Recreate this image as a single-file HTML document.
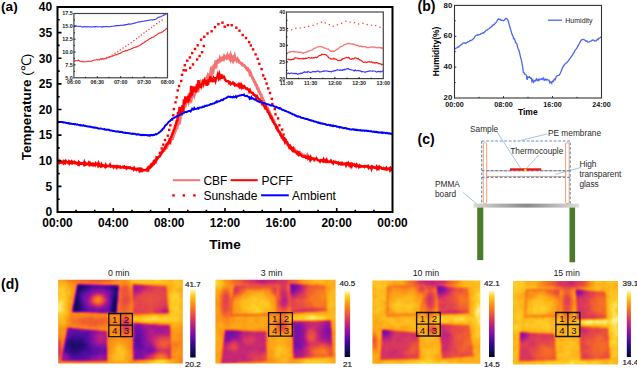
<!DOCTYPE html><html><head><meta charset="utf-8"><style>html,body{margin:0;padding:0;background:#fff;overflow:hidden}svg{display:block}</style></head><body><svg width="637" height="373" viewBox="0 0 637 373"><text x="1.1" y="10.8" font-size="13.6" font-weight="bold" font-family="Liberation Sans, sans-serif">(a)</text><defs><clipPath id="ca"><rect x="57.5" y="7.0" width="335.0" height="205.0"/></clipPath><clipPath id="ci1"><rect x="73.9" y="13.5" width="93.6" height="64.3"/></clipPath><clipPath id="ci2"><rect x="286.5" y="12" width="96.8" height="66.6"/></clipPath><clipPath id="cb"><rect x="454.5" y="5.4" width="147" height="92.6"/></clipPath></defs><g clip-path="url(#ca)"><path d="M160.7,152.3 161.4,152.1 162.1,151.5 162.8,151.2 163.6,149.9 164.3,150.1 165.0,147.7 165.7,148.0 166.4,145.4 167.1,146.2 167.8,144.1 168.5,143.4 169.3,142.6 170.0,142.9 170.7,139.6 171.4,139.2 172.1,137.6 172.8,138.0 173.6,134.7 174.3,133.6 175.0,131.8 175.7,129.6 176.4,128.3 177.1,127.9 177.9,122.1 178.6,122.7 179.3,117.7 180.0,119.3 180.7,113.7 181.4,115.9 182.2,111.7 182.9,110.6 183.6,107.9 184.3,107.0 185.0,103.8 185.7,104.6 186.4,102.6 187.1,102.6 187.8,99.3 188.5,101.5 189.2,98.7 189.9,99.9 190.7,96.4 191.4,98.3 192.1,93.9 192.8,96.5 193.5,93.3 194.2,95.2 194.9,92.9 195.6,92.5 196.3,91.1 197.0,89.6 197.7,87.3 198.5,89.0 199.2,86.0 199.9,88.2 200.7,83.9 201.4,85.8 202.1,83.2 202.9,84.5 203.6,81.0 204.3,81.5 205.1,79.6 205.8,80.4 206.5,78.4 207.3,79.7 208.0,76.5 208.7,78.0 209.5,73.5 210.2,76.3 210.9,71.4 211.7,73.3 212.4,69.4 213.2,70.7 213.9,66.4 214.7,66.9 215.4,63.6 216.2,65.0 216.9,60.1 217.7,63.4 218.4,58.9 219.2,62.4 219.9,59.3 220.7,61.5 221.4,57.0 222.2,60.7 222.9,58.3 223.6,59.1 224.3,56.6 225.0,57.8 225.8,57.0 226.5,57.9 227.3,56.0 228.0,59.1 228.8,54.6 229.5,57.1 230.3,55.2 231.0,59.1 231.7,57.6 232.4,59.3 233.2,55.6 233.9,58.7 234.6,56.6 235.3,59.7 236.0,59.5 236.7,60.7 237.5,59.4 238.2,61.1 238.9,61.1 239.6,62.6 240.3,62.9 241.1,63.5 241.8,63.5 242.5,65.1 243.3,65.1 244.0,65.5 244.8,66.3 245.5,67.1 246.2,67.7 247.0,69.2 247.7,68.8 248.5,70.5 249.2,70.5 250.0,74.0 250.7,73.4 251.5,75.8 252.2,77.2 253.0,78.9 253.7,79.9 254.5,81.9 255.2,83.0 255.9,85.1 256.7,85.4 257.4,88.6 258.2,88.8 258.9,91.6 259.6,91.9 260.4,94.1 261.1,94.8 261.9,97.2 262.7,98.8 263.5,100.8 264.2,102.5 265.0,104.8 265.8,105.1 266.6,108.0 267.5,108.0 268.3,110.4 269.2,111.5 270.0,113.7 270.8,115.2 271.5,116.9 272.2,117.7 273.0,121.0 273.8,120.8 274.5,122.8 275.2,124.4 276.0,125.7 276.8,127.2 277.5,129.4 278.2,130.4 279.0,131.8 279.8,132.4 280.5,134.3 281.2,134.8 282.0,137.5 282.7,137.5 283.5,139.5 284.2,139.4 284.9,140.6 285.6,141.9 286.4,143.2 287.1,143.8 287.8,145.2 288.5,145.1 289.3,146.4 290.0,145.9 290.7,148.1 291.4,147.7 292.1,148.6 292.9,148.1 293.6,149.6 294.3,149.0 295.0,151.0 295.7,151.1 296.4,152.0 297.1,151.7 297.9,153.4 298.6,152.8 299.3,153.8 300.0,153.0 300.7,154.2 301.4,153.9 302.1,154.5 302.9,155.2 303.6,156.0 304.3,155.5 305.0,156.2 305.7,156.3 306.4,157.0 307.1,155.7 307.9,158.0 308.6,157.2 309.3,158.0 310.0,157.7" fill="none" stroke="#f47474" stroke-width="3"/><path d="M57.5,161.3 58.2,162.0 58.9,160.9 59.6,162.4 60.3,161.4 61.0,162.5 61.7,162.3 62.4,162.7 63.1,161.6 63.8,163.0 64.5,161.8 65.2,162.8 65.9,161.2 66.6,162.3 67.3,162.3 68.0,162.8 68.7,161.7 69.4,163.2 70.1,162.0 70.8,162.6 71.5,161.6 72.2,163.0 72.9,162.0 73.6,162.6 74.3,161.9 75.0,163.0 75.7,162.6 76.4,163.5 77.1,163.1 77.9,164.2 78.6,162.6 79.3,164.1 80.0,163.0 80.7,163.8 81.4,163.8 82.1,163.1 82.9,163.0 83.6,164.1 84.3,162.3 85.0,164.4 85.7,163.4 86.4,164.3 87.1,163.9 87.9,164.2 88.6,163.0 89.3,164.6 90.0,163.2 90.7,164.6 91.4,164.0 92.1,164.9 92.9,163.9 93.6,165.0 94.3,164.4 95.0,165.2 95.7,163.4 96.4,164.2 97.2,163.8 97.9,165.4 98.6,163.5 99.3,165.5 100.0,165.0 100.7,166.1 101.4,164.4 102.2,165.9 102.9,165.2 103.6,165.6 104.3,165.5 105.0,166.6 105.7,165.0 106.4,166.5 107.2,165.8 107.9,166.0 108.6,166.0 109.3,166.0 110.0,164.8 110.7,166.6 111.5,166.3 112.2,166.1 112.9,166.3 113.6,167.4 114.3,166.1 115.0,166.5 115.7,166.4 116.5,167.6 117.2,166.3 117.9,167.0 118.6,166.6 119.3,167.1 120.0,166.6 120.7,167.6 121.4,167.4 122.2,167.5 122.9,166.9 123.6,167.4 124.3,166.6 125.0,167.6 125.7,167.3 126.4,168.3 127.1,167.3 127.9,167.9 128.6,167.5 129.3,167.9 130.0,167.4 130.7,168.1 131.4,168.5 132.2,168.7 132.9,168.4 133.6,169.5 134.3,168.0 135.1,169.2 135.8,169.2 136.5,169.8 137.2,168.8 138.0,169.1 138.7,168.7 139.4,170.6 140.2,169.3 140.9,170.5 141.6,169.4 142.3,170.7 143.1,169.9 143.8,170.1 144.5,170.3 145.3,170.3 146.1,169.7 146.9,170.3 147.6,168.4 148.4,169.6 149.2,167.0 150.0,167.4 150.7,165.3 151.4,166.0 152.1,164.1 152.9,164.3 153.6,161.9 154.3,163.0 155.0,161.1 155.7,161.7 156.4,158.2 157.1,159.1 157.8,158.0 158.6,157.2 159.3,156.4 160.0,156.2 160.7,154.4 161.4,153.6 162.1,151.9 162.8,151.4 163.6,149.8 164.3,149.3 165.0,147.5 165.7,147.2 166.4,145.2 167.1,144.2 167.8,143.0 168.5,143.1 169.3,140.4 170.0,141.3 170.7,137.6 171.4,136.8 172.2,134.3 172.9,132.5 173.7,129.8 174.4,129.1 175.2,125.8 175.9,124.6 176.7,121.0 177.4,120.3 178.1,111.8 178.8,116.3 179.6,106.9 180.3,115.6 181.0,107.4 181.8,113.7 182.5,105.0 183.2,112.2 183.9,99.4 184.7,104.4 185.4,96.4 186.1,102.6 186.8,97.5 187.5,102.6 188.3,95.9 189.0,101.4 189.7,93.2 190.4,97.6 191.2,85.9 191.9,95.6 192.6,86.4 193.3,92.3 194.1,89.1 194.8,88.6 195.5,86.7 196.3,92.2 197.0,83.8 197.7,89.6 198.5,80.2 199.2,87.1 200.0,83.6 200.7,87.8 201.4,84.2 202.2,83.9 202.9,82.1 203.6,83.8 204.4,81.3 205.1,84.0 205.9,80.0 206.6,85.9 207.3,81.5 208.1,85.0 208.8,79.2 209.6,82.1 210.3,76.3 211.1,81.9 211.8,79.3 212.6,80.4 213.3,78.7 214.1,82.0 214.8,77.1 215.6,80.4 216.3,78.1 217.1,77.5 217.8,74.9 218.6,77.6 219.4,74.5 220.1,77.2 220.9,74.5 221.7,78.8 222.4,75.9 223.2,76.6 224.0,76.7 224.8,79.4 225.5,80.0 226.3,81.1 227.0,81.3 227.8,81.3 228.5,81.4 229.2,83.0 229.9,82.6 230.7,84.2 231.4,83.7 232.1,83.3 232.8,82.7 233.6,84.0 234.3,83.6 235.0,85.3 235.7,85.0 236.4,85.4 237.2,84.9 237.9,85.6 238.6,84.6 239.3,86.4 240.0,84.7 240.7,86.4 241.4,85.2 242.1,87.6 242.9,86.4 243.6,87.4 244.3,86.4 245.0,87.5 245.7,88.1 246.4,88.9 247.1,88.5 247.8,89.3 248.5,89.5 249.2,91.4 249.9,90.3 250.6,92.1 251.3,92.3 252.1,92.8 252.8,92.9 253.5,94.7 254.2,94.7 254.9,95.6 255.6,95.6 256.3,97.1 257.0,96.4 257.7,98.1 258.4,98.9 259.1,99.6 259.9,99.6 260.6,101.0 261.3,101.1 262.0,103.8 262.8,103.5 263.5,105.4 264.2,105.8 264.9,107.6 265.7,106.8 266.4,109.1 267.1,109.4 267.8,112.0 268.5,112.1 269.2,114.1 269.9,115.0 270.7,117.6 271.4,117.2 272.1,119.3 272.8,120.5 273.5,122.2 274.2,123.3 274.9,124.4 275.6,124.9 276.3,127.5 277.1,127.4 277.8,130.4 278.5,131.0 279.2,132.0 279.9,132.4 280.6,134.9 281.3,135.8 282.1,137.4 282.8,137.3 283.6,139.2 284.3,138.7 285.0,141.7 285.8,140.4 286.5,141.9 287.2,142.3 288.0,144.4 288.7,144.9 289.4,147.3 290.2,146.5 290.9,148.5 291.7,148.4 292.4,150.1 293.2,148.9 293.9,151.4 294.7,151.5 295.4,151.4 296.2,152.6 297.0,153.5 297.7,152.6 298.5,154.3 299.2,153.2 300.0,154.8 300.7,154.7 301.4,155.5 302.2,156.3 302.9,156.4 303.6,156.8 304.3,156.7 305.1,156.4 305.8,157.7 306.5,157.6 307.2,157.8 307.9,156.7 308.6,158.3 309.3,157.7 310.1,159.7 310.8,157.6 311.5,159.2 312.2,158.6 312.9,158.3 313.6,158.5 314.3,159.9 315.0,158.9 315.7,159.1 316.4,158.3 317.2,159.6 317.9,160.1 318.6,160.4 319.3,160.3 320.0,161.4 320.7,160.0 321.5,160.1 322.2,160.9 322.9,161.5 323.6,159.6 324.4,161.1 325.1,160.3 325.8,161.3 326.6,159.9 327.3,161.8 328.0,161.5 328.8,162.0 329.5,161.4 330.2,161.4 330.9,160.7 331.7,162.2 332.4,162.5 333.1,163.4 333.8,161.7 334.5,162.2 335.3,161.9 336.0,162.7 336.7,162.5 337.4,163.1 338.1,162.6 338.8,163.9 339.6,163.2 340.3,164.0 341.0,163.1 341.7,164.1 342.4,163.3 343.1,164.3 343.8,164.1 344.6,163.6 345.3,163.4 346.0,165.2 346.7,163.5 347.4,164.1 348.1,163.1 348.8,164.8 349.6,164.0 350.3,165.8 351.0,164.6 351.7,166.2 352.4,164.2 353.1,165.0 353.9,164.5 354.6,165.5 355.3,165.0 356.0,166.1 356.7,164.7 357.4,165.8 358.1,165.6 358.8,166.8 359.5,165.7 360.2,166.6 360.9,165.9 361.6,166.5 362.4,166.4 363.1,166.2 363.8,166.2 364.5,166.9 365.2,166.1 365.9,166.4 366.6,166.2 367.3,166.7 368.0,166.1 368.7,167.8 369.4,166.9 370.1,167.1 370.8,166.8 371.5,168.7 372.2,166.6 372.9,167.1 373.6,166.9 374.4,167.7 375.1,167.8 375.8,168.0 376.5,166.9 377.2,168.8 377.9,167.8 378.6,168.6 379.3,166.9 380.0,167.9 380.7,167.5 381.4,168.2 382.1,168.8 382.8,168.8 383.5,168.2 384.2,169.0 384.9,168.5 385.7,169.1 386.4,168.0 387.1,169.2 387.8,168.8 388.5,168.8 389.2,168.4 389.9,170.0 390.6,168.3 391.3,169.4 392.5,168.0" fill="none" stroke="#ff0000" stroke-width="2.5"/><rect x="150.7" y="164.4" width="2.4" height="2.4" fill="#ff0000"/><rect x="153.6" y="160.9" width="2.4" height="2.4" fill="#ff0000"/><rect x="156.1" y="156.2" width="2.4" height="2.4" fill="#ff0000"/><rect x="158.7" y="151.7" width="2.4" height="2.4" fill="#ff0000"/><rect x="160.5" y="147.3" width="2.4" height="2.4" fill="#ff0000"/><rect x="162.1" y="143.4" width="2.4" height="2.4" fill="#ff0000"/><rect x="163.8" y="138.8" width="2.4" height="2.4" fill="#ff0000"/><rect x="166.6" y="134.5" width="2.4" height="2.4" fill="#ff0000"/><rect x="168.0" y="128.7" width="2.4" height="2.4" fill="#ff0000"/><rect x="169.2" y="124.1" width="2.4" height="2.4" fill="#ff0000"/><rect x="171.0" y="118.2" width="2.4" height="2.4" fill="#ff0000"/><rect x="172.1" y="114.1" width="2.4" height="2.4" fill="#ff0000"/><rect x="172.6" y="107.9" width="2.4" height="2.4" fill="#ff0000"/><rect x="174.3" y="101.1" width="2.4" height="2.4" fill="#ff0000"/><rect x="175.5" y="96.2" width="2.4" height="2.4" fill="#ff0000"/><rect x="176.5" y="89.2" width="2.4" height="2.4" fill="#ff0000"/><rect x="177.9" y="84.8" width="2.4" height="2.4" fill="#ff0000"/><rect x="180.0" y="79.8" width="2.4" height="2.4" fill="#ff0000"/><rect x="180.8" y="73.6" width="2.4" height="2.4" fill="#ff0000"/><rect x="182.5" y="69.0" width="2.4" height="2.4" fill="#ff0000"/><rect x="183.6" y="64.0" width="2.4" height="2.4" fill="#ff0000"/><rect x="186.1" y="59.5" width="2.4" height="2.4" fill="#ff0000"/><rect x="188.7" y="56.2" width="2.4" height="2.4" fill="#ff0000"/><rect x="191.0" y="51.9" width="2.4" height="2.4" fill="#ff0000"/><rect x="193.8" y="47.8" width="2.4" height="2.4" fill="#ff0000"/><rect x="196.5" y="44.1" width="2.4" height="2.4" fill="#ff0000"/><rect x="199.9" y="38.5" width="2.4" height="2.4" fill="#ff0000"/><rect x="203.0" y="35.6" width="2.4" height="2.4" fill="#ff0000"/><rect x="206.3" y="32.3" width="2.4" height="2.4" fill="#ff0000"/><rect x="210.4" y="30.1" width="2.4" height="2.4" fill="#ff0000"/><rect x="213.8" y="26.0" width="2.4" height="2.4" fill="#ff0000"/><rect x="217.2" y="23.0" width="2.4" height="2.4" fill="#ff0000"/><rect x="221.3" y="21.5" width="2.4" height="2.4" fill="#ff0000"/><rect x="223.5" y="25.5" width="2.4" height="2.4" fill="#ff0000"/><rect x="226.7" y="23.9" width="2.4" height="2.4" fill="#ff0000"/><rect x="230.5" y="24.0" width="2.4" height="2.4" fill="#ff0000"/><rect x="235.2" y="26.5" width="2.4" height="2.4" fill="#ff0000"/><rect x="238.3" y="29.5" width="2.4" height="2.4" fill="#ff0000"/><rect x="241.5" y="33.8" width="2.4" height="2.4" fill="#ff0000"/><rect x="244.8" y="36.8" width="2.4" height="2.4" fill="#ff0000"/><rect x="247.9" y="40.9" width="2.4" height="2.4" fill="#ff0000"/><rect x="249.6" y="44.3" width="2.4" height="2.4" fill="#ff0000"/><rect x="251.9" y="48.2" width="2.4" height="2.4" fill="#ff0000"/><rect x="254.4" y="53.2" width="2.4" height="2.4" fill="#ff0000"/><rect x="256.5" y="57.6" width="2.4" height="2.4" fill="#ff0000"/><rect x="258.1" y="62.6" width="2.4" height="2.4" fill="#ff0000"/><rect x="260.4" y="67.9" width="2.4" height="2.4" fill="#ff0000"/><rect x="262.0" y="74.2" width="2.4" height="2.4" fill="#ff0000"/><rect x="263.8" y="77.7" width="2.4" height="2.4" fill="#ff0000"/><rect x="265.4" y="82.4" width="2.4" height="2.4" fill="#ff0000"/><rect x="267.0" y="87.2" width="2.4" height="2.4" fill="#ff0000"/><rect x="268.8" y="91.8" width="2.4" height="2.4" fill="#ff0000"/><rect x="270.6" y="97.7" width="2.4" height="2.4" fill="#ff0000"/><rect x="271.1" y="102.8" width="2.4" height="2.4" fill="#ff0000"/><rect x="273.6" y="107.9" width="2.4" height="2.4" fill="#ff0000"/><rect x="274.3" y="113.1" width="2.4" height="2.4" fill="#ff0000"/><rect x="276.9" y="117.2" width="2.4" height="2.4" fill="#ff0000"/><rect x="278.2" y="124.1" width="2.4" height="2.4" fill="#ff0000"/><rect x="281.0" y="128.4" width="2.4" height="2.4" fill="#ff0000"/><rect x="282.3" y="133.4" width="2.4" height="2.4" fill="#ff0000"/><rect x="284.5" y="139.2" width="2.4" height="2.4" fill="#ff0000"/><rect x="184.7" y="69.2" width="2.4" height="2.4" fill="#ff0000"/><rect x="189.0" y="66.7" width="2.4" height="2.4" fill="#ff0000"/><rect x="191.8" y="63.2" width="2.4" height="2.4" fill="#ff0000"/><rect x="195.9" y="58.3" width="2.4" height="2.4" fill="#ff0000"/><rect x="198.4" y="54.8" width="2.4" height="2.4" fill="#ff0000"/><rect x="200.9" y="51.0" width="2.4" height="2.4" fill="#ff0000"/><rect x="202.6" y="44.8" width="2.4" height="2.4" fill="#ff0000"/><path d="M57.5,121.8 58.2,122.0 58.9,121.8 59.6,122.1 60.3,122.1 61.0,122.0 61.7,122.1 62.4,122.1 63.1,122.4 63.8,122.3 64.5,122.6 65.2,122.6 65.9,122.9 66.6,123.0 67.3,123.1 68.0,123.4 68.8,123.0 69.5,123.6 70.2,123.5 70.9,123.7 71.6,123.8 72.3,124.0 73.0,123.9 73.7,124.0 74.4,124.4 75.1,124.0 75.8,124.4 76.5,124.6 77.2,124.3 77.9,124.7 78.6,124.9 79.3,125.2 80.0,124.9 80.7,125.4 81.4,125.3 82.1,125.4 82.9,125.7 83.6,125.3 84.3,125.9 85.0,126.0 85.7,125.9 86.4,126.3 87.1,126.2 87.9,126.4 88.6,126.5 89.3,126.8 90.0,126.6 90.7,126.8 91.4,127.0 92.2,127.2 92.9,127.5 93.6,127.3 94.3,127.7 95.0,127.6 95.7,127.8 96.4,127.8 97.2,128.0 97.9,128.4 98.6,128.4 99.3,128.6 100.0,128.4 100.7,128.5 101.4,128.6 102.2,128.9 102.9,129.1 103.6,129.3 104.3,129.0 105.0,129.5 105.7,129.8 106.5,129.7 107.2,129.5 107.9,129.8 108.6,129.7 109.3,130.0 110.0,130.5 110.7,130.5 111.5,130.6 112.2,130.8 112.9,131.0 113.6,131.0 114.3,131.1 115.0,131.2 115.7,131.4 116.5,131.4 117.2,131.6 117.9,131.4 118.6,131.8 119.3,131.8 120.0,132.1 120.7,131.8 121.4,132.0 122.2,132.0 122.9,132.5 123.6,132.7 124.3,132.7 125.0,132.6 125.7,133.0 126.4,133.1 127.1,133.1 127.9,133.0 128.6,133.2 129.3,133.3 130.0,133.4 130.7,133.5 131.4,133.7 132.1,134.0 132.8,133.6 133.5,133.9 134.2,133.7 134.9,133.8 135.6,134.3 136.3,134.3 137.0,134.6 137.7,134.3 138.4,134.2 139.2,134.5 139.9,134.7 140.6,135.0 141.3,135.1 142.0,134.8 142.7,134.9 143.4,134.8 144.1,135.2 144.8,135.0 145.5,135.1 146.2,135.0 146.9,135.1 147.6,135.5 148.3,135.2 149.1,135.7 149.8,135.1 150.6,135.5 151.3,135.0 152.0,134.9 152.8,135.3 153.5,134.9 154.3,135.0 155.0,134.5 155.7,134.1 156.4,134.3 157.1,133.9 157.8,133.5 158.6,133.0 159.3,132.1 160.0,131.9 160.7,131.3 161.4,130.5 162.1,130.0 162.8,128.8 163.6,128.3 164.3,127.2 165.0,125.9 165.8,125.0 166.6,124.4 167.4,123.6 168.3,122.3 169.1,121.6 170.0,121.1 170.7,120.0 171.4,119.8 172.1,119.0 172.8,118.3 173.5,118.1 174.3,117.8 175.0,117.3 175.8,117.0 176.5,116.3 177.3,116.3 178.0,115.6 178.8,115.4 179.5,115.0 180.3,114.5 181.0,114.0 181.8,113.9 182.5,113.7 183.2,113.2 184.0,112.8 184.7,112.3 185.5,111.9 186.2,112.2 187.0,111.8 187.7,111.6 188.5,111.0 189.2,110.9 190.0,110.8 190.7,111.4 191.5,110.1 192.2,108.7 192.9,109.5 193.6,109.6 194.3,108.1 195.0,109.1 195.7,109.1 196.4,108.8 197.1,108.8 197.8,108.1 198.6,108.6 199.3,107.7 200.0,107.6 200.7,107.5 201.4,107.4 202.1,107.3 202.8,106.6 203.5,106.9 204.2,106.6 204.9,105.8 205.7,105.9 206.4,105.6 207.1,105.7 207.8,105.4 208.6,105.1 209.3,105.0 210.0,104.5 210.7,104.0 211.5,104.1 212.2,103.8 212.9,103.4 213.6,103.4 214.4,103.3 215.1,102.5 215.8,102.6 216.5,101.4 217.3,102.0 218.0,101.5 218.7,101.2 219.5,101.2 220.2,100.9 220.9,100.3 221.6,99.8 222.4,100.2 223.1,99.9 223.8,98.9 224.5,98.6 225.3,98.4 226.0,98.1 226.7,97.5 227.4,97.2 228.2,96.6 228.9,96.7 229.7,96.9 230.4,96.7 231.2,97.2 232.0,97.1 232.8,97.5 233.5,96.5 234.3,97.0 235.0,97.2 235.8,96.2 236.5,97.3 237.3,96.4 238.0,95.9 238.8,95.8 239.5,95.6 240.3,95.6 241.0,95.2 241.7,95.0 242.5,95.1 243.2,94.9 244.0,94.5 244.7,95.9 245.5,96.0 246.2,96.0 247.0,95.9 247.7,96.4 248.4,97.1 249.1,97.1 249.8,99.0 250.6,98.6 251.3,97.2 252.0,98.7 252.7,98.6 253.4,98.6 254.1,99.3 254.8,99.6 255.5,99.2 256.3,100.2 257.0,100.8 257.7,100.9 258.4,101.4 259.1,101.9 259.9,102.2 260.6,101.9 261.4,102.4 262.1,102.5 262.9,102.6 263.6,103.3 264.3,103.1 265.0,103.5 265.7,103.7 266.5,104.2 267.2,104.2 267.9,104.3 268.6,104.5 269.3,104.6 270.0,105.3 270.8,105.5 271.5,105.3 272.2,105.4 272.9,105.7 273.6,106.0 274.3,106.6 275.1,106.8 275.8,107.0 276.5,106.8 277.2,107.5 277.9,107.7 278.6,107.9 279.3,108.5 280.0,108.2 280.8,108.6 281.5,109.3 282.2,109.7 282.9,109.9 283.6,110.0 284.3,110.5 285.0,110.9 285.7,110.8 286.4,111.3 287.1,111.6 287.9,111.8 288.6,112.3 289.3,112.5 290.0,112.8 290.7,113.1 291.4,113.7 292.1,113.7 292.8,114.4 293.5,114.4 294.3,114.6 295.0,115.5 295.7,115.4 296.4,116.1 297.1,116.3 297.8,116.6 298.5,116.4 299.2,116.8 299.9,116.8 300.7,117.5 301.4,117.7 302.1,117.8 302.8,117.9 303.5,118.0 304.2,118.5 304.9,118.6 305.6,118.9 306.4,118.8 307.1,119.0 307.8,119.2 308.5,119.8 309.2,119.9 309.9,119.9 310.6,120.5 311.3,120.4 312.1,120.7 312.8,120.7 313.5,121.0 314.2,121.6 314.9,121.5 315.6,121.6 316.3,122.0 317.0,122.1 317.8,122.7 318.5,122.4 319.2,123.1 319.9,122.8 320.6,123.5 321.3,123.5 322.0,123.4 322.7,123.7 323.4,123.8 324.1,123.9 324.8,124.0 325.6,124.2 326.3,124.8 327.0,124.9 327.7,125.0 328.4,124.7 329.1,124.9 329.8,125.4 330.5,125.1 331.2,125.6 331.9,125.5 332.6,126.1 333.3,125.6 334.0,126.2 334.8,126.1 335.5,126.1 336.2,126.2 336.9,126.8 337.6,126.8 338.3,126.7 339.0,127.0 339.7,127.5 340.4,127.2 341.1,127.5 341.8,127.4 342.5,127.6 343.2,128.1 343.9,128.2 344.7,128.0 345.4,128.1 346.1,128.3 346.8,128.7 347.5,128.8 348.2,128.8 348.9,128.9 349.6,129.2 350.3,129.4 351.0,129.5 351.7,129.4 352.5,129.3 353.2,129.3 353.9,129.7 354.6,129.6 355.3,129.9 356.0,129.6 356.7,130.1 357.4,129.9 358.2,130.3 358.9,130.3 359.6,130.2 360.3,130.0 361.0,130.6 361.7,130.4 362.4,130.7 363.1,130.4 363.9,130.4 364.6,130.9 365.3,130.7 366.0,130.6 366.7,130.8 367.4,131.0 368.1,130.8 368.8,131.1 369.6,131.2 370.3,131.3 371.0,131.1 371.7,131.6 372.4,131.7 373.1,131.8 373.8,131.6 374.6,131.9 375.3,131.8 376.0,132.1 376.7,131.8 377.4,132.3 378.1,132.5 378.9,132.3 379.6,132.4 380.3,132.5 381.0,132.6 381.7,132.3 382.4,133.0 383.2,132.6 383.9,132.7 384.6,132.7 385.3,132.9 386.0,133.3 386.8,132.9 387.5,133.1 388.2,133.5 388.9,133.3 389.6,133.3 390.3,133.7 391.1,133.7 391.8,133.7 392.5,133.9" fill="none" stroke="#0000ff" stroke-width="2"/></g><rect x="57.5" y="7.0" width="335.0" height="205.0" fill="none" stroke="#000" stroke-width="2"/><path d="M57.5,199.2h2.2 M57.5,186.4h4 M57.5,173.6h2.2 M57.5,160.8h4 M57.5,147.9h2.2 M57.5,135.1h4 M57.5,122.3h2.2 M57.5,109.5h4 M57.5,96.7h2.2 M57.5,83.9h4 M57.5,71.1h2.2 M57.5,58.2h4 M57.5,45.4h2.2 M57.5,32.6h4 M57.5,19.8h2.2 M76.1,212.0v-2.2 M94.7,212.0v-2.2 M113.3,212.0v-4 M131.9,212.0v-2.2 M150.6,212.0v-2.2 M169.2,212.0v-4 M187.8,212.0v-2.2 M206.4,212.0v-2.2 M225.0,212.0v-4 M243.6,212.0v-2.2 M262.2,212.0v-2.2 M280.8,212.0v-4 M299.4,212.0v-2.2 M318.1,212.0v-2.2 M336.7,212.0v-4 M355.3,212.0v-2.2 M373.9,212.0v-2.2" stroke="#000" stroke-width="1.6"/><text x="52.2" y="216.2" font-size="12" font-weight="bold" text-anchor="end" font-family="Liberation Sans, sans-serif">0</text><text x="52.2" y="190.6" font-size="12" font-weight="bold" text-anchor="end" font-family="Liberation Sans, sans-serif">5</text><text x="52.2" y="164.9" font-size="12" font-weight="bold" text-anchor="end" font-family="Liberation Sans, sans-serif">10</text><text x="52.2" y="139.3" font-size="12" font-weight="bold" text-anchor="end" font-family="Liberation Sans, sans-serif">15</text><text x="52.2" y="113.7" font-size="12" font-weight="bold" text-anchor="end" font-family="Liberation Sans, sans-serif">20</text><text x="52.2" y="88.1" font-size="12" font-weight="bold" text-anchor="end" font-family="Liberation Sans, sans-serif">25</text><text x="52.2" y="62.5" font-size="12" font-weight="bold" text-anchor="end" font-family="Liberation Sans, sans-serif">30</text><text x="52.2" y="36.8" font-size="12" font-weight="bold" text-anchor="end" font-family="Liberation Sans, sans-serif">35</text><text x="52.2" y="11.2" font-size="12" font-weight="bold" text-anchor="end" font-family="Liberation Sans, sans-serif">40</text><text x="57.5" y="227.1" font-size="11.9" font-weight="bold" text-anchor="middle" font-family="Liberation Sans, sans-serif">00:00</text><text x="113.3" y="227.1" font-size="11.9" font-weight="bold" text-anchor="middle" font-family="Liberation Sans, sans-serif">04:00</text><text x="169.2" y="227.1" font-size="11.9" font-weight="bold" text-anchor="middle" font-family="Liberation Sans, sans-serif">08:00</text><text x="225.0" y="227.1" font-size="11.9" font-weight="bold" text-anchor="middle" font-family="Liberation Sans, sans-serif">12:00</text><text x="280.8" y="227.1" font-size="11.9" font-weight="bold" text-anchor="middle" font-family="Liberation Sans, sans-serif">16:00</text><text x="336.7" y="227.1" font-size="11.9" font-weight="bold" text-anchor="middle" font-family="Liberation Sans, sans-serif">20:00</text><text x="392.5" y="227.1" font-size="11.9" font-weight="bold" text-anchor="middle" font-family="Liberation Sans, sans-serif">00:00</text><text x="225" y="248.8" font-size="13.6" font-weight="bold" text-anchor="middle" font-family="Liberation Sans, sans-serif">Time</text><text transform="translate(31.4,106.9) rotate(-90)" font-size="13.5" font-weight="bold" text-anchor="middle" font-family="Liberation Sans, sans-serif">Temperature <tspan font-weight="normal">(℃)</tspan></text><path d="M172.9,180.2H200.3" stroke="#f47474" stroke-width="2"/><path d="M230.6,180.2H257.7" stroke="#ff0000" stroke-width="2"/><rect x="172.3" y="194.2" width="2.4" height="2.4" fill="#ff0000"/><rect x="182.60000000000002" y="194.2" width="2.4" height="2.4" fill="#ff0000"/><rect x="193.20000000000002" y="194.2" width="2.4" height="2.4" fill="#ff0000"/><path d="M261.1,195.3H288.8" stroke="#0000ff" stroke-width="2"/><text x="203.4" y="184.5" font-size="12" font-family="Liberation Sans, sans-serif">CBF</text><text x="261.6" y="184.5" font-size="12" font-family="Liberation Sans, sans-serif">PCFF</text><text x="203.4" y="199.6" font-size="12" font-family="Liberation Sans, sans-serif">Sunshade</text><text x="291.9" y="199.6" font-size="12" font-family="Liberation Sans, sans-serif">Ambient</text><rect x="73.9" y="13.5" width="93.6" height="64.3" fill="#fff"/><g clip-path="url(#ci1)"><path d="M74.0,25.9 74.7,25.9 75.5,25.8 76.2,25.9 76.9,26.4 77.7,26.3 78.4,26.3 79.2,26.4 79.9,26.3 80.6,26.3 81.4,26.8 82.1,26.9 82.8,27.0 83.5,26.8 84.2,26.9 84.9,26.6 85.6,26.5 86.3,27.0 87.0,26.9 87.7,26.5 88.5,26.8 89.2,26.9 89.9,26.7 90.6,26.9 91.3,27.0 92.0,26.8 92.7,27.0 93.4,26.6 94.1,26.7 94.8,27.0 95.5,26.5 96.2,26.6 96.9,26.8 97.6,26.7 98.3,27.0 99.0,26.8 99.7,26.8 100.4,26.8 101.1,26.8 101.8,27.2 102.5,26.6 103.2,26.8 103.9,26.5 104.6,26.7 105.3,26.5 106.0,26.6 106.7,26.5 107.4,26.5 108.1,26.9 108.8,26.8 109.5,26.7 110.2,26.6 110.9,26.5 111.7,26.3 112.4,26.2 113.1,26.3 113.9,26.1 114.6,25.8 115.3,25.9 116.1,25.5 116.8,25.6 117.5,25.8 118.2,25.4 119.0,25.5 119.7,25.6 120.4,25.4 121.2,25.1 121.9,25.3 122.6,25.4 123.4,25.1 124.1,25.4 124.8,24.7 125.6,24.9 126.3,24.6 127.0,24.5 127.7,24.4 128.4,23.9 129.1,24.2 129.8,23.9 130.5,24.1 131.2,24.0 131.9,23.9 132.6,23.6 133.3,23.5 134.0,23.1 134.7,23.4 135.4,22.8 136.1,22.7 136.8,22.5 137.5,22.1 138.2,22.2 138.9,21.9 139.6,22.0 140.3,21.9 141.0,21.6 141.7,21.5 142.4,21.3 143.1,21.3 143.8,21.5 144.5,21.0 145.2,21.0 146.0,20.6 146.7,20.7 147.4,20.6 148.1,20.5 148.8,20.2 149.5,20.1 150.2,20.0 150.9,20.0 151.7,19.8 152.4,20.1 153.1,19.7 153.8,19.6 154.5,19.6 155.2,19.2 156.0,19.0 156.7,18.7 157.4,17.9 158.2,17.5 158.9,17.0 159.7,17.1 160.4,16.8 161.1,16.5 161.9,16.1 162.6,15.7 163.3,15.5 164.0,14.9 164.7,14.9 165.5,14.2 166.2,13.9 166.9,13.4 167.6,13.0" fill="none" stroke="#3a3aff" stroke-width="1.1"/><path d="M74.0,61.3 74.7,60.7 75.5,60.6 76.2,60.8 76.9,60.7 77.7,60.7 78.4,60.2 79.2,60.7 79.9,61.1 80.6,61.2 81.4,61.3 82.1,61.4 82.8,61.9 83.6,61.7 84.3,61.7 85.0,61.8 85.7,61.7 86.5,61.5 87.2,61.3 87.9,61.2 88.6,61.4 89.4,61.2 90.1,61.3 90.8,61.2 91.5,61.2 92.3,60.8 93.0,60.2 93.7,60.2 94.4,60.0 95.2,60.0 95.9,60.0 96.6,59.6 97.3,60.0 98.0,59.7 98.8,59.7 99.5,60.1 100.2,59.2 100.9,58.7 101.6,59.1 102.3,58.7 103.1,59.0 103.8,58.4 104.5,58.6 105.2,58.7 105.9,58.7 106.6,58.1 107.3,57.7 108.1,57.6 108.8,57.2 109.5,56.9 110.2,56.7 110.9,56.3 111.6,56.3 112.4,56.1 113.1,55.9 113.8,55.5 114.5,55.2 115.2,54.9 116.0,55.0 116.7,54.6 117.4,54.5 118.1,54.0 118.9,53.6 119.6,53.5 120.3,53.4 121.0,52.8 121.7,52.3 122.5,51.9 123.2,51.8 123.9,51.6 124.6,51.3 125.3,50.6 126.1,50.8 126.8,50.5 127.5,50.4 128.2,50.1 129.0,49.8 129.7,49.6 130.4,49.3 131.1,48.9 131.8,48.5 132.5,48.5 133.2,47.8 133.9,47.8 134.6,47.5 135.3,47.3 136.0,46.8 136.8,46.9 137.5,46.4 138.2,46.3 138.9,45.7 139.6,45.5 140.3,45.1 141.0,44.5 141.7,43.9 142.4,43.4 143.1,43.0 143.8,42.7 144.5,42.1 145.2,41.9 146.0,41.1 146.7,40.8 147.4,40.5 148.1,39.9 148.8,39.3 149.5,38.7 150.2,38.4 150.9,38.3 151.7,37.4 152.4,37.3 153.1,37.2 153.8,36.7 154.5,36.5 155.2,35.7 156.0,35.3 156.7,35.1 157.4,34.4 158.1,33.7 158.9,33.4 159.6,32.9 160.3,33.0 161.1,32.6 161.8,32.1 162.5,31.9 163.2,31.3 164.0,30.5 164.7,30.2 165.4,29.6 166.1,29.0 166.9,28.3 167.6,28.5" fill="none" stroke="#ff2020" stroke-width="1.1"/><rect x="102.7" y="58.0" width="1.3" height="1.3" fill="#ff4040"/><rect x="105.8" y="57.3" width="1.3" height="1.3" fill="#ff4040"/><rect x="108.8" y="56.1" width="1.3" height="1.3" fill="#ff4040"/><rect x="111.5" y="54.4" width="1.3" height="1.3" fill="#ff4040"/><rect x="114.3" y="52.7" width="1.3" height="1.3" fill="#ff4040"/><rect x="117.0" y="50.9" width="1.3" height="1.3" fill="#ff4040"/><rect x="119.7" y="49.2" width="1.3" height="1.3" fill="#ff4040"/><rect x="122.4" y="47.4" width="1.3" height="1.3" fill="#ff4040"/><rect x="125.1" y="45.6" width="1.3" height="1.3" fill="#ff4040"/><rect x="127.8" y="43.8" width="1.3" height="1.3" fill="#ff4040"/><rect x="130.5" y="42.0" width="1.3" height="1.3" fill="#ff4040"/><rect x="133.2" y="40.0" width="1.3" height="1.3" fill="#ff4040"/><rect x="135.9" y="38.0" width="1.3" height="1.3" fill="#ff4040"/><rect x="138.3" y="36.2" width="1.3" height="1.3" fill="#ff4040"/><rect x="140.7" y="34.4" width="1.3" height="1.3" fill="#ff4040"/><rect x="143.4" y="32.4" width="1.3" height="1.3" fill="#ff4040"/><rect x="145.8" y="30.6" width="1.3" height="1.3" fill="#ff4040"/><rect x="148.2" y="28.8" width="1.3" height="1.3" fill="#ff4040"/><rect x="150.9" y="26.8" width="1.3" height="1.3" fill="#ff4040"/><rect x="153.3" y="25.0" width="1.3" height="1.3" fill="#ff4040"/><rect x="156.0" y="23.0" width="1.3" height="1.3" fill="#ff4040"/><rect x="158.8" y="21.2" width="1.3" height="1.3" fill="#ff4040"/><rect x="161.5" y="19.5" width="1.3" height="1.3" fill="#ff4040"/></g><rect x="73.9" y="13.5" width="93.6" height="64.3" fill="none" stroke="#444" stroke-width="1.2"/><path d="M73.9,71.4h1 M73.9,64.9h1.6 M73.9,58.5h1 M73.9,52.1h1.6 M73.9,45.6h1 M73.9,39.2h1.6 M73.9,32.8h1 M73.9,26.4h1.6 M73.9,19.9h1 M85.6,77.8v-1 M97.3,77.8v-1.6 M109.0,77.8v-1 M120.7,77.8v-1.6 M132.4,77.8v-1 M144.1,77.8v-1.6 M155.8,77.8v-1" stroke="#000" stroke-width="0.9"/><text x="72.7" y="79.7" font-size="5.4" font-weight="bold" text-anchor="end" fill="#222" font-family="Liberation Sans, sans-serif">5.0</text><text x="72.7" y="66.8" font-size="5.4" font-weight="bold" text-anchor="end" fill="#222" font-family="Liberation Sans, sans-serif">7.5</text><text x="72.7" y="54.0" font-size="5.4" font-weight="bold" text-anchor="end" fill="#222" font-family="Liberation Sans, sans-serif">10.0</text><text x="72.7" y="41.1" font-size="5.4" font-weight="bold" text-anchor="end" fill="#222" font-family="Liberation Sans, sans-serif">12.5</text><text x="72.7" y="28.3" font-size="5.4" font-weight="bold" text-anchor="end" fill="#222" font-family="Liberation Sans, sans-serif">15.0</text><text x="72.7" y="15.4" font-size="5.4" font-weight="bold" text-anchor="end" fill="#222" font-family="Liberation Sans, sans-serif">17.5</text><text x="73.9" y="84.0" font-size="5.3" font-weight="bold" text-anchor="middle" fill="#222" font-family="Liberation Sans, sans-serif">06:00</text><text x="97.3" y="84.0" font-size="5.3" font-weight="bold" text-anchor="middle" fill="#222" font-family="Liberation Sans, sans-serif">06:30</text><text x="120.7" y="84.0" font-size="5.3" font-weight="bold" text-anchor="middle" fill="#222" font-family="Liberation Sans, sans-serif">07:00</text><text x="144.1" y="84.0" font-size="5.3" font-weight="bold" text-anchor="middle" fill="#222" font-family="Liberation Sans, sans-serif">07:30</text><text x="167.5" y="84.0" font-size="5.3" font-weight="bold" text-anchor="middle" fill="#222" font-family="Liberation Sans, sans-serif">08:00</text><rect x="286.5" y="12" width="96.80000000000001" height="66.6" fill="#fff"/><g clip-path="url(#ci2)"><path d="M287.3,52.7 288.0,52.7 288.7,52.4 289.4,51.9 290.1,52.0 290.9,51.6 291.6,51.7 292.3,51.6 293.0,51.6 293.7,51.3 294.4,52.0 295.1,51.9 295.8,51.7 296.6,51.8 297.3,52.0 298.0,52.3 298.7,52.2 299.4,52.5 300.1,52.0 300.8,52.6 301.5,52.3 302.3,53.1 303.0,53.5 303.7,52.8 304.4,52.6 305.1,52.4 305.8,52.4 306.5,52.2 307.3,51.6 308.0,51.2 308.7,51.4 309.4,50.8 310.1,50.8 310.9,50.5 311.6,50.2 312.3,50.0 313.0,49.4 313.7,48.8 314.4,48.2 315.1,48.1 315.9,48.0 316.6,47.5 317.3,46.8 318.0,46.8 318.7,46.8 319.5,46.7 320.2,46.6 320.9,46.6 321.6,46.8 322.3,46.9 323.0,47.4 323.7,47.7 324.5,48.2 325.2,48.0 325.9,48.5 326.6,48.8 327.3,49.1 328.0,49.0 328.7,49.3 329.4,50.3 330.2,50.9 330.9,51.3 331.6,51.3 332.3,50.8 333.0,51.4 333.7,51.1 334.4,51.2 335.2,50.6 335.9,50.2 336.6,49.3 337.3,49.2 338.0,48.9 338.7,48.5 339.4,47.4 340.2,46.8 340.9,46.6 341.6,46.6 342.3,46.2 343.0,45.8 343.7,45.1 344.4,44.7 345.2,44.6 345.9,44.2 346.6,43.7 347.3,43.4 348.0,43.6 348.7,43.5 349.4,43.5 350.1,43.9 350.9,43.9 351.6,44.2 352.3,44.1 353.0,43.9 353.7,44.4 354.4,44.5 355.1,44.7 355.8,45.4 356.5,45.5 357.3,45.3 358.0,45.6 358.7,46.2 359.4,46.5 360.1,46.4 360.8,46.1 361.5,46.7 362.2,46.3 363.0,46.6 363.7,46.4 364.4,46.6 365.1,46.8 365.8,46.6 366.6,47.2 367.3,47.7 368.0,47.4 368.7,47.7 369.4,47.2 370.1,47.1 370.9,47.3 371.6,47.2 372.3,47.1 373.0,46.7 373.7,47.0 374.4,47.5 375.2,47.2 375.9,47.6 376.6,47.6 377.3,47.8 378.0,47.6 378.7,47.3 379.5,47.5 380.2,47.6 380.9,48.1 381.6,47.8 382.5,48.1 383.3,48.1" fill="none" stroke="#f47676" stroke-width="1.3"/><path d="M287.3,59.4 288.0,59.4 288.7,59.1 289.4,59.8 290.1,59.5 290.9,60.1 291.6,59.5 292.3,59.4 293.0,59.1 293.7,59.3 294.4,58.2 295.1,57.7 295.8,57.8 296.5,58.0 297.3,58.1 298.0,58.6 298.7,58.4 299.4,58.7 300.1,58.6 300.8,58.5 301.5,58.8 302.2,58.6 303.0,58.2 303.7,58.9 304.4,58.4 305.1,58.8 305.8,58.2 306.6,58.3 307.3,58.0 308.0,57.9 308.7,57.5 309.4,57.5 310.1,58.1 310.9,58.2 311.6,57.5 312.3,58.1 313.0,57.8 313.7,57.6 314.4,57.8 315.1,57.5 315.9,57.2 316.6,57.8 317.3,57.2 318.0,56.7 318.7,55.9 319.4,55.5 320.1,55.3 320.8,55.4 321.6,54.4 322.3,54.3 323.0,54.3 323.7,54.5 324.4,54.3 325.1,54.7 325.8,54.7 326.6,55.6 327.3,55.9 328.0,56.7 328.7,58.0 329.4,58.0 330.1,58.3 330.8,58.9 331.6,59.1 332.3,58.9 333.0,58.9 333.7,58.2 334.4,59.2 335.1,59.2 335.8,58.9 336.6,59.4 337.3,60.1 338.0,60.6 338.7,60.6 339.4,60.4 340.1,60.3 340.9,60.5 341.6,59.2 342.3,59.3 343.0,58.6 343.7,58.6 344.4,58.3 345.1,57.9 345.9,57.8 346.6,57.5 347.3,57.8 348.0,58.1 348.7,57.3 349.4,58.0 350.1,59.0 350.9,59.4 351.6,59.2 352.3,58.6 353.0,58.8 353.7,58.8 354.4,58.3 355.1,57.9 355.9,57.8 356.6,58.3 357.3,58.7 358.0,58.3 358.7,59.1 359.4,59.9 360.1,60.2 360.8,60.1 361.5,60.8 362.3,61.3 363.0,62.1 363.7,62.4 364.4,62.1 365.1,61.9 365.8,62.3 366.5,62.5 367.3,62.1 368.0,61.8 368.7,61.9 369.4,61.7 370.1,62.1 370.9,62.1 371.6,61.8 372.3,62.4 373.0,62.6 373.7,62.7 374.4,63.1 375.1,62.7 375.9,62.8 376.6,62.5 377.3,62.6 378.0,63.3 378.7,63.7 379.5,63.5 380.2,63.9 380.9,63.9 381.6,64.7 382.5,64.4 383.3,64.1" fill="none" stroke="#ff1a1a" stroke-width="1.2"/><path d="M287.3,74.0 288.0,73.2 288.7,73.2 289.4,73.6 290.2,73.5 290.9,73.0 291.6,73.0 292.3,73.3 293.0,73.6 293.7,73.3 294.4,73.6 295.1,73.4 295.9,73.6 296.6,73.4 297.3,74.1 298.0,74.3 298.7,73.6 299.4,73.7 300.1,73.8 300.9,73.0 301.6,73.4 302.3,73.2 303.0,72.6 303.7,72.4 304.4,71.7 305.1,72.3 305.8,72.2 306.6,72.0 307.3,72.4 308.0,71.5 308.7,71.7 309.4,72.2 310.1,72.4 310.8,72.6 311.6,72.0 312.3,72.0 313.0,71.4 313.7,71.7 314.4,71.7 315.1,72.0 315.8,71.6 316.5,71.4 317.3,71.2 318.0,71.2 318.7,71.2 319.4,72.1 320.1,71.8 320.8,71.8 321.5,71.7 322.3,71.5 323.0,71.2 323.7,71.2 324.4,71.3 325.1,70.9 325.8,71.0 326.5,70.8 327.2,71.0 328.0,71.4 328.7,71.3 329.4,71.4 330.1,71.6 330.8,71.6 331.5,71.8 332.2,71.3 333.0,71.2 333.7,71.1 334.4,70.5 335.1,70.9 335.8,70.4 336.6,70.3 337.3,69.6 338.0,70.0 338.7,70.0 339.4,70.3 340.1,70.0 340.9,70.4 341.6,70.0 342.3,70.3 343.0,69.7 343.7,70.0 344.4,69.3 345.2,69.7 345.9,69.3 346.6,68.8 347.3,68.8 348.0,68.5 348.7,69.2 349.4,69.3 350.2,69.5 350.9,69.8 351.6,69.9 352.3,70.0 353.0,70.3 353.7,70.6 354.4,70.9 355.2,69.9 355.9,70.6 356.6,70.6 357.3,70.7 358.0,70.4 358.7,70.6 359.4,70.8 360.2,71.2 360.9,71.0 361.6,71.8 362.3,71.6 363.0,71.5 363.7,71.7 364.4,72.0 365.2,72.3 365.9,71.8 366.6,71.7 367.3,71.6 368.0,71.4 368.7,71.2 369.4,71.1 370.2,70.9 370.9,71.0 371.6,71.0 372.3,71.3 373.0,70.9 373.7,71.0 374.5,71.0 375.2,71.3 375.9,71.8 376.6,72.0 377.3,71.6 378.0,71.7 378.7,71.5 379.5,71.9 380.2,71.3 380.9,71.9 381.6,71.5 382.5,71.0 383.3,70.9" fill="none" stroke="#3a3aff" stroke-width="1.2"/><rect x="286.7" y="30.1" width="1.3" height="1.3" fill="#ff4040"/><rect x="291.0" y="29.2" width="1.3" height="1.3" fill="#ff4040"/><rect x="295.2" y="27.7" width="1.3" height="1.3" fill="#ff4040"/><rect x="299.5" y="27.4" width="1.3" height="1.3" fill="#ff4040"/><rect x="303.8" y="26.7" width="1.3" height="1.3" fill="#ff4040"/><rect x="308.1" y="25.8" width="1.3" height="1.3" fill="#ff4040"/><rect x="312.4" y="24.7" width="1.3" height="1.3" fill="#ff4040"/><rect x="316.6" y="23.2" width="1.3" height="1.3" fill="#ff4040"/><rect x="320.8" y="21.5" width="1.3" height="1.3" fill="#ff4040"/><rect x="324.7" y="22.2" width="1.3" height="1.3" fill="#ff4040"/><rect x="328.7" y="24.0" width="1.3" height="1.3" fill="#ff4040"/><rect x="332.6" y="25.6" width="1.3" height="1.3" fill="#ff4040"/><rect x="336.8" y="24.1" width="1.3" height="1.3" fill="#ff4040"/><rect x="341.0" y="22.7" width="1.3" height="1.3" fill="#ff4040"/><rect x="345.2" y="20.6" width="1.3" height="1.3" fill="#ff4040"/><rect x="349.5" y="21.4" width="1.3" height="1.3" fill="#ff4040"/><rect x="353.7" y="22.0" width="1.3" height="1.3" fill="#ff4040"/><rect x="358.0" y="23.3" width="1.3" height="1.3" fill="#ff4040"/><rect x="362.3" y="22.7" width="1.3" height="1.3" fill="#ff4040"/><rect x="366.6" y="23.9" width="1.3" height="1.3" fill="#ff4040"/><rect x="370.8" y="24.5" width="1.3" height="1.3" fill="#ff4040"/><rect x="375.0" y="25.0" width="1.3" height="1.3" fill="#ff4040"/><rect x="379.2" y="26.6" width="1.3" height="1.3" fill="#ff4040"/></g><rect x="286.5" y="12" width="96.80000000000001" height="66.6" fill="none" stroke="#444" stroke-width="1.2"/><path d="M286.5,70.3h1 M286.5,61.9h1.6 M286.5,53.6h1 M286.5,45.3h1.6 M286.5,37.0h1 M286.5,28.6h1.6 M286.5,20.3h1 M298.6,78.6v-1 M310.7,78.6v-1.6 M322.8,78.6v-1 M334.9,78.6v-1.6 M347.0,78.6v-1 M359.1,78.6v-1.6 M371.2,78.6v-1" stroke="#000" stroke-width="0.9"/><text x="285.3" y="80.5" font-size="5.4" font-weight="bold" text-anchor="end" fill="#222" font-family="Liberation Sans, sans-serif">20</text><text x="285.3" y="63.8" font-size="5.4" font-weight="bold" text-anchor="end" fill="#222" font-family="Liberation Sans, sans-serif">25</text><text x="285.3" y="47.2" font-size="5.4" font-weight="bold" text-anchor="end" fill="#222" font-family="Liberation Sans, sans-serif">30</text><text x="285.3" y="30.5" font-size="5.4" font-weight="bold" text-anchor="end" fill="#222" font-family="Liberation Sans, sans-serif">35</text><text x="285.3" y="13.9" font-size="5.4" font-weight="bold" text-anchor="end" fill="#222" font-family="Liberation Sans, sans-serif">40</text><text x="286.5" y="84.8" font-size="5.3" font-weight="bold" text-anchor="middle" fill="#222" font-family="Liberation Sans, sans-serif">11:00</text><text x="310.7" y="84.8" font-size="5.3" font-weight="bold" text-anchor="middle" fill="#222" font-family="Liberation Sans, sans-serif">11:30</text><text x="334.9" y="84.8" font-size="5.3" font-weight="bold" text-anchor="middle" fill="#222" font-family="Liberation Sans, sans-serif">12:00</text><text x="359.1" y="84.8" font-size="5.3" font-weight="bold" text-anchor="middle" fill="#222" font-family="Liberation Sans, sans-serif">12:30</text><text x="383.3" y="84.8" font-size="5.3" font-weight="bold" text-anchor="middle" fill="#222" font-family="Liberation Sans, sans-serif">13:00</text><text x="417.5" y="10.9" font-size="14" font-weight="bold" font-family="Liberation Sans, sans-serif">(b)</text><g clip-path="url(#cb)"><path d="M454.3,49.0 455.2,48.9 456.1,48.1 457.0,47.8 457.8,47.0 458.7,47.0 459.6,45.8 460.5,45.5 461.4,44.3 462.2,44.2 463.1,43.1 464.0,43.0 464.9,43.0 465.7,43.4 466.6,42.7 467.5,42.1 468.4,41.6 469.3,41.5 470.1,40.5 470.9,40.6 471.7,40.0 472.5,39.7 473.3,38.8 474.1,38.3 475.3,36.0 476.5,35.2 477.4,34.8 478.4,35.0 479.3,34.7 480.2,34.4 481.0,33.6 481.9,33.6 482.8,32.8 483.7,33.0 484.6,31.9 485.4,31.3 486.3,30.1 487.2,30.0 488.1,29.3 488.9,28.7 489.8,27.8 490.7,27.5 491.5,26.2 492.4,26.2 493.2,24.7 494.1,24.8 494.9,23.4 495.8,22.8 496.8,21.3 497.7,19.7 498.6,18.9 499.4,19.6 500.2,19.3 501.1,20.3 502.3,20.2 503.5,20.8 504.5,20.1 505.6,18.6 506.6,18.5 507.6,19.5 508.5,21.8 509.5,25.8 510.7,29.6 511.9,34.1 512.8,35.7 513.7,38.8 514.6,38.8 515.5,42.6 516.7,43.3 517.9,48.2 519.1,50.6 520.3,56.1 521.1,58.9 521.9,62.6 522.7,67.1 523.4,72.7 524.2,72.9 525.1,74.5 526.3,74.9 527.1,79.9 527.9,76.8 528.7,77.4 529.5,76.7 530.3,78.3 531.2,78.1 532.0,81.6 532.8,79.8 533.6,82.2 534.5,80.6 535.4,81.0 536.3,78.9 537.2,80.6 538.1,79.3 538.9,80.6 539.8,79.1 540.6,79.5 541.5,78.7 542.3,79.5 543.2,78.0 544.2,80.2 545.1,79.1 546.1,80.3 547.0,79.2 548.0,80.2 549.0,80.2 549.9,82.9 550.9,81.8 551.8,83.3 552.6,81.1 553.5,81.4 554.3,79.1 555.2,79.7 556.3,76.6 557.4,75.7 558.3,75.4 559.3,74.9 560.1,73.5 561.0,71.6 561.8,69.6 562.7,67.5 563.5,65.7 564.5,64.8 565.6,63.2 566.6,62.9 567.6,61.4 568.5,60.7 569.5,59.0 570.5,57.9 571.4,56.2 572.4,55.4 573.3,53.4 574.3,52.1 575.2,50.1 576.1,49.1 577.1,47.7 578.0,45.8 579.0,44.1 580.1,42.0 581.1,40.3 582.1,39.7 583.0,39.4 584.0,39.7 585.0,40.2 585.9,41.0 586.9,41.0 587.8,41.9 588.8,42.1 589.7,41.7 590.6,41.0 591.5,40.8 592.4,40.0 593.2,40.2 594.0,40.4 594.8,41.0 595.6,40.8 596.4,40.6 597.3,39.3 598.1,39.6 599.0,38.1 599.8,38.0 600.7,37.0 601.5,36.8" fill="none" stroke="#4a68f0" stroke-width="1.3"/></g><rect x="454.5" y="5.4" width="147.0" height="92.6" fill="none" stroke="#333" stroke-width="1.1"/><path d="M454.5,82.6h1.2 M454.5,67.1h1.8 M454.5,51.7h1.2 M454.5,36.3h1.8 M454.5,20.8h1.2 M479.0,98.0v-1.2 M503.5,98.0v-1.8 M528.0,98.0v-1.2 M552.5,98.0v-1.8 M577.0,98.0v-1.2" stroke="#222" stroke-width="1"/><text x="452.3" y="100.1" font-size="7.8" font-weight="bold" text-anchor="end" fill="#111" font-family="Liberation Sans, sans-serif">20</text><text x="452.3" y="69.2" font-size="7.8" font-weight="bold" text-anchor="end" fill="#111" font-family="Liberation Sans, sans-serif">40</text><text x="452.3" y="38.4" font-size="7.8" font-weight="bold" text-anchor="end" fill="#111" font-family="Liberation Sans, sans-serif">60</text><text x="452.3" y="7.5" font-size="7.8" font-weight="bold" text-anchor="end" fill="#111" font-family="Liberation Sans, sans-serif">80</text><text x="454.5" y="107" font-size="7.2" font-weight="bold" text-anchor="middle" fill="#111" font-family="Liberation Sans, sans-serif">00:00</text><text x="503.5" y="107" font-size="7.2" font-weight="bold" text-anchor="middle" fill="#111" font-family="Liberation Sans, sans-serif">08:00</text><text x="552.5" y="107" font-size="7.2" font-weight="bold" text-anchor="middle" fill="#111" font-family="Liberation Sans, sans-serif">16:00</text><text x="601.5" y="107" font-size="7.2" font-weight="bold" text-anchor="middle" fill="#111" font-family="Liberation Sans, sans-serif">24:00</text><text x="527.8" y="115.2" font-size="8.5" font-weight="bold" text-anchor="middle" font-family="Liberation Sans, sans-serif">Time</text><text transform="translate(439.1,51.4) rotate(-90)" font-size="8.5" font-weight="bold" text-anchor="middle" font-family="Liberation Sans, sans-serif">Humidity(%)</text><path d="M547.9,20.2H562.1" stroke="#4a68f0" stroke-width="1.3"/><text x="565.3" y="22.6" font-size="7" fill="#222" font-family="Liberation Sans, sans-serif">Humidity</text><text x="417.6" y="144" font-size="14" font-weight="bold" font-family="Liberation Sans, sans-serif">(c)</text><defs><linearGradient id="brd" x1="0" x2="1"><stop offset="0" stop-color="#d8d8d8"/><stop offset="0.5" stop-color="#8a8a8a"/><stop offset="1" stop-color="#dedede"/></linearGradient></defs><rect x="473.6" y="203.6" width="105.5" height="4" fill="url(#brd)"/><rect x="477.2" y="207.6" width="6.1" height="52.5" fill="#4a7a2a"/><rect x="569.5" y="207.6" width="5.6" height="54.7" fill="#4a7a2a"/><rect x="483.3" y="142.8" width="3.4" height="60.8" rx="1.2" fill="#fff" stroke="#f4a070" stroke-width="1"/><rect x="565.6" y="142.8" width="3.6" height="60.8" rx="1.2" fill="#fff" stroke="#f4a070" stroke-width="1"/><rect x="486.7" y="170.8" width="78.9" height="5.6" fill="#fff" stroke="#f4a070" stroke-width="1"/><path d="M481.7,141H570.2V204M481.7,141V204M481.7,170.6H570.2M481.7,177.4H570.2" fill="none" stroke="#5f90cc" stroke-width="1.1" stroke-dasharray="2.8,1.7"/><rect x="510" y="168.3" width="31.3" height="2.2" fill="#ee1111"/><circle cx="525.3" cy="170" r="1.3" fill="#ffe000"/><path d="M496.4,131L520.5,168M547.2,134L520.8,140.3M538.7,155.1L525.6,169M581,167.4L555.7,174.3M463,192.4L476.3,203.5" stroke="#6aa0d8" stroke-width="0.6" fill="none"/><text x="470.0" y="131.5" font-size="8.3" fill="#2a2a2a" font-family="Liberation Sans, sans-serif">Sample</text><text x="548.0" y="136.2" font-size="8.3" fill="#2a2a2a" font-family="Liberation Sans, sans-serif">PE membrane</text><text x="510.3" y="153.6" font-size="8.3" fill="#2a2a2a" font-family="Liberation Sans, sans-serif">Thermocouple</text><text x="579.4" y="166.9" font-size="8.3" fill="#2a2a2a" font-family="Liberation Sans, sans-serif">High</text><text x="579.4" y="177.2" font-size="8.3" fill="#2a2a2a" font-family="Liberation Sans, sans-serif">transparent</text><text x="579.4" y="187.0" font-size="8.3" fill="#2a2a2a" font-family="Liberation Sans, sans-serif">glass</text><text x="435" y="186.9" font-size="8.3" fill="#2a2a2a" font-family="Liberation Sans, sans-serif">PMMA</text><text x="435" y="196.8" font-size="8.3" fill="#2a2a2a" font-family="Liberation Sans, sans-serif">board</text><text x="1" y="288.5" font-size="14" font-weight="bold" font-family="Liberation Sans, sans-serif">(d)</text><defs><filter id="irn" x="-5%" y="-5%" width="110%" height="110%" color-interpolation-filters="sRGB"><feGaussianBlur in="SourceGraphic" stdDeviation="1.1" result="b"/><feTurbulence type="fractalNoise" baseFrequency="0.12" numOctaves="2" seed="5" result="n0"/><feColorMatrix in="n0" type="matrix" values="1 0 0 0 0 1 0 0 0 0 1 0 0 0 0 0 0 0 0 1" result="n"/><feComposite in="b" in2="n" operator="arithmetic" k1="0" k2="1" k3="0.09" k4="-0.045"/><feComponentTransfer><feFuncR type="table" tableValues="0.024 0.078 0.165 0.306 0.463 0.627 0.769 0.882 0.949 0.980 0.992 1.000 1.000"/><feFuncG type="table" tableValues="0.016 0.047 0.047 0.047 0.063 0.086 0.149 0.251 0.376 0.518 0.667 0.824 0.980"/><feFuncB type="table" tableValues="0.157 0.345 0.502 0.620 0.659 0.588 0.471 0.322 0.188 0.102 0.086 0.157 0.745"/><feFuncA type="linear" slope="1"/></feComponentTransfer></filter><filter id="irn0" x="0" y="0" width="100%" height="100%" color-interpolation-filters="sRGB"><feComponentTransfer><feFuncR type="table" tableValues="0.024 0.078 0.165 0.306 0.463 0.627 0.769 0.882 0.949 0.980 0.992 1.000 1.000"/><feFuncG type="table" tableValues="0.016 0.047 0.047 0.047 0.063 0.086 0.149 0.251 0.376 0.518 0.667 0.824 0.980"/><feFuncB type="table" tableValues="0.157 0.345 0.502 0.620 0.659 0.588 0.471 0.322 0.188 0.102 0.086 0.157 0.745"/></feComponentTransfer></filter><linearGradient id="cbar" x1="0" y1="0" x2="0" y2="1"><stop offset="0" stop-color="#fff"/><stop offset="1" stop-color="#000"/></linearGradient><radialGradient id="rg1"><stop offset="0" stop-color="rgb(230,230,230)" stop-opacity="1.00"/><stop offset="0.3" stop-color="rgb(230,230,230)" stop-opacity="0.82"/><stop offset="0.6" stop-color="rgb(230,230,230)" stop-opacity="0.40"/><stop offset="0.85" stop-color="rgb(230,230,230)" stop-opacity="0.10"/><stop offset="1" stop-color="rgb(230,230,230)" stop-opacity="0.00"/></radialGradient><radialGradient id="rg2"><stop offset="0" stop-color="rgb(158,158,158)" stop-opacity="1.00"/><stop offset="0.3" stop-color="rgb(158,158,158)" stop-opacity="0.82"/><stop offset="0.6" stop-color="rgb(158,158,158)" stop-opacity="0.40"/><stop offset="0.85" stop-color="rgb(158,158,158)" stop-opacity="0.10"/><stop offset="1" stop-color="rgb(158,158,158)" stop-opacity="0.00"/></radialGradient><radialGradient id="rg3"><stop offset="0" stop-color="rgb(219,219,219)" stop-opacity="1.00"/><stop offset="0.3" stop-color="rgb(219,219,219)" stop-opacity="0.82"/><stop offset="0.6" stop-color="rgb(219,219,219)" stop-opacity="0.40"/><stop offset="0.85" stop-color="rgb(219,219,219)" stop-opacity="0.10"/><stop offset="1" stop-color="rgb(219,219,219)" stop-opacity="0.00"/></radialGradient><radialGradient id="rg4"><stop offset="0" stop-color="rgb(235,235,235)" stop-opacity="1.00"/><stop offset="0.3" stop-color="rgb(235,235,235)" stop-opacity="0.82"/><stop offset="0.6" stop-color="rgb(235,235,235)" stop-opacity="0.40"/><stop offset="0.85" stop-color="rgb(235,235,235)" stop-opacity="0.10"/><stop offset="1" stop-color="rgb(235,235,235)" stop-opacity="0.00"/></radialGradient><radialGradient id="rg5"><stop offset="0" stop-color="rgb(255,255,255)" stop-opacity="1.00"/><stop offset="0.3" stop-color="rgb(255,255,255)" stop-opacity="0.82"/><stop offset="0.6" stop-color="rgb(255,255,255)" stop-opacity="0.40"/><stop offset="0.85" stop-color="rgb(255,255,255)" stop-opacity="0.10"/><stop offset="1" stop-color="rgb(255,255,255)" stop-opacity="0.00"/></radialGradient><radialGradient id="rg6"><stop offset="0" stop-color="rgb(128,128,128)" stop-opacity="1.00"/><stop offset="0.3" stop-color="rgb(128,128,128)" stop-opacity="0.82"/><stop offset="0.6" stop-color="rgb(128,128,128)" stop-opacity="0.40"/><stop offset="0.85" stop-color="rgb(128,128,128)" stop-opacity="0.10"/><stop offset="1" stop-color="rgb(128,128,128)" stop-opacity="0.00"/></radialGradient><radialGradient id="rg7"><stop offset="0" stop-color="rgb(235,235,235)" stop-opacity="1.00"/><stop offset="0.3" stop-color="rgb(235,235,235)" stop-opacity="0.82"/><stop offset="0.6" stop-color="rgb(235,235,235)" stop-opacity="0.40"/><stop offset="0.85" stop-color="rgb(235,235,235)" stop-opacity="0.10"/><stop offset="1" stop-color="rgb(235,235,235)" stop-opacity="0.00"/></radialGradient><radialGradient id="rg8"><stop offset="0" stop-color="rgb(242,242,242)" stop-opacity="1.00"/><stop offset="0.3" stop-color="rgb(242,242,242)" stop-opacity="0.82"/><stop offset="0.6" stop-color="rgb(242,242,242)" stop-opacity="0.40"/><stop offset="0.85" stop-color="rgb(242,242,242)" stop-opacity="0.10"/><stop offset="1" stop-color="rgb(242,242,242)" stop-opacity="0.00"/></radialGradient><radialGradient id="rg9"><stop offset="0" stop-color="rgb(153,153,153)" stop-opacity="1.00"/><stop offset="0.3" stop-color="rgb(153,153,153)" stop-opacity="0.82"/><stop offset="0.6" stop-color="rgb(153,153,153)" stop-opacity="0.40"/><stop offset="0.85" stop-color="rgb(153,153,153)" stop-opacity="0.10"/><stop offset="1" stop-color="rgb(153,153,153)" stop-opacity="0.00"/></radialGradient><radialGradient id="rg10"><stop offset="0" stop-color="rgb(128,128,128)" stop-opacity="1.00"/><stop offset="0.3" stop-color="rgb(128,128,128)" stop-opacity="0.82"/><stop offset="0.6" stop-color="rgb(128,128,128)" stop-opacity="0.40"/><stop offset="0.85" stop-color="rgb(128,128,128)" stop-opacity="0.10"/><stop offset="1" stop-color="rgb(128,128,128)" stop-opacity="0.00"/></radialGradient><radialGradient id="rg11"><stop offset="0" stop-color="rgb(163,163,163)" stop-opacity="1.00"/><stop offset="0.3" stop-color="rgb(163,163,163)" stop-opacity="0.82"/><stop offset="0.6" stop-color="rgb(163,163,163)" stop-opacity="0.40"/><stop offset="0.85" stop-color="rgb(163,163,163)" stop-opacity="0.10"/><stop offset="1" stop-color="rgb(163,163,163)" stop-opacity="0.00"/></radialGradient><radialGradient id="rg12"><stop offset="0" stop-color="rgb(230,230,230)" stop-opacity="1.00"/><stop offset="0.3" stop-color="rgb(230,230,230)" stop-opacity="0.82"/><stop offset="0.6" stop-color="rgb(230,230,230)" stop-opacity="0.40"/><stop offset="0.85" stop-color="rgb(230,230,230)" stop-opacity="0.10"/><stop offset="1" stop-color="rgb(230,230,230)" stop-opacity="0.00"/></radialGradient><radialGradient id="rg13"><stop offset="0" stop-color="rgb(242,242,242)" stop-opacity="1.00"/><stop offset="0.3" stop-color="rgb(242,242,242)" stop-opacity="0.82"/><stop offset="0.6" stop-color="rgb(242,242,242)" stop-opacity="0.40"/><stop offset="0.85" stop-color="rgb(242,242,242)" stop-opacity="0.10"/><stop offset="1" stop-color="rgb(242,242,242)" stop-opacity="0.00"/></radialGradient><radialGradient id="rg14"><stop offset="0" stop-color="rgb(102,102,102)" stop-opacity="1.00"/><stop offset="0.45" stop-color="rgb(102,102,102)" stop-opacity="0.92"/><stop offset="0.75" stop-color="rgb(102,102,102)" stop-opacity="0.50"/><stop offset="0.9" stop-color="rgb(102,102,102)" stop-opacity="0.15"/><stop offset="1" stop-color="rgb(102,102,102)" stop-opacity="0.00"/></radialGradient><radialGradient id="rg15"><stop offset="0" stop-color="rgb(199,199,199)" stop-opacity="1.00"/><stop offset="0.3" stop-color="rgb(199,199,199)" stop-opacity="0.82"/><stop offset="0.6" stop-color="rgb(199,199,199)" stop-opacity="0.40"/><stop offset="0.85" stop-color="rgb(199,199,199)" stop-opacity="0.10"/><stop offset="1" stop-color="rgb(199,199,199)" stop-opacity="0.00"/></radialGradient><radialGradient id="rg16"><stop offset="0" stop-color="rgb(0,0,0)" stop-opacity="1.00"/><stop offset="0.3" stop-color="rgb(0,0,0)" stop-opacity="0.82"/><stop offset="0.6" stop-color="rgb(0,0,0)" stop-opacity="0.40"/><stop offset="0.85" stop-color="rgb(0,0,0)" stop-opacity="0.10"/><stop offset="1" stop-color="rgb(0,0,0)" stop-opacity="0.00"/></radialGradient><radialGradient id="rg17"><stop offset="0" stop-color="rgb(15,15,15)" stop-opacity="1.00"/><stop offset="0.3" stop-color="rgb(15,15,15)" stop-opacity="0.82"/><stop offset="0.6" stop-color="rgb(15,15,15)" stop-opacity="0.40"/><stop offset="0.85" stop-color="rgb(15,15,15)" stop-opacity="0.10"/><stop offset="1" stop-color="rgb(15,15,15)" stop-opacity="0.00"/></radialGradient><clipPath id="cp18"><polygon points="77.4,284.6 118.6,285.4 116.2,313.0 72.5,311.8"/></clipPath><radialGradient id="rg19"><stop offset="0" stop-color="rgb(102,102,102)" stop-opacity="1.00"/><stop offset="0.3" stop-color="rgb(102,102,102)" stop-opacity="0.82"/><stop offset="0.6" stop-color="rgb(102,102,102)" stop-opacity="0.40"/><stop offset="0.85" stop-color="rgb(102,102,102)" stop-opacity="0.10"/><stop offset="1" stop-color="rgb(102,102,102)" stop-opacity="0.00"/></radialGradient><radialGradient id="rg20"><stop offset="0" stop-color="rgb(161,161,161)" stop-opacity="1.00"/><stop offset="0.3" stop-color="rgb(161,161,161)" stop-opacity="0.82"/><stop offset="0.6" stop-color="rgb(161,161,161)" stop-opacity="0.40"/><stop offset="0.85" stop-color="rgb(161,161,161)" stop-opacity="0.10"/><stop offset="1" stop-color="rgb(161,161,161)" stop-opacity="0.00"/></radialGradient><radialGradient id="rg21"><stop offset="0" stop-color="rgb(115,115,115)" stop-opacity="1.00"/><stop offset="0.3" stop-color="rgb(115,115,115)" stop-opacity="0.82"/><stop offset="0.6" stop-color="rgb(115,115,115)" stop-opacity="0.40"/><stop offset="0.85" stop-color="rgb(115,115,115)" stop-opacity="0.10"/><stop offset="1" stop-color="rgb(115,115,115)" stop-opacity="0.00"/></radialGradient><clipPath id="cp22"><polygon points="133.0,284.6 166.3,285.9 168.7,313.0 133.4,314.2"/></clipPath><radialGradient id="rg23"><stop offset="0" stop-color="rgb(31,31,31)" stop-opacity="1.00"/><stop offset="0.3" stop-color="rgb(31,31,31)" stop-opacity="0.82"/><stop offset="0.6" stop-color="rgb(31,31,31)" stop-opacity="0.40"/><stop offset="0.85" stop-color="rgb(31,31,31)" stop-opacity="0.10"/><stop offset="1" stop-color="rgb(31,31,31)" stop-opacity="0.00"/></radialGradient><radialGradient id="rg24"><stop offset="0" stop-color="rgb(128,128,128)" stop-opacity="1.00"/><stop offset="0.3" stop-color="rgb(128,128,128)" stop-opacity="0.82"/><stop offset="0.6" stop-color="rgb(128,128,128)" stop-opacity="0.40"/><stop offset="0.85" stop-color="rgb(128,128,128)" stop-opacity="0.10"/><stop offset="1" stop-color="rgb(128,128,128)" stop-opacity="0.00"/></radialGradient><radialGradient id="rg25"><stop offset="0" stop-color="rgb(112,112,112)" stop-opacity="1.00"/><stop offset="0.3" stop-color="rgb(112,112,112)" stop-opacity="0.82"/><stop offset="0.6" stop-color="rgb(112,112,112)" stop-opacity="0.40"/><stop offset="0.85" stop-color="rgb(112,112,112)" stop-opacity="0.10"/><stop offset="1" stop-color="rgb(112,112,112)" stop-opacity="0.00"/></radialGradient><radialGradient id="rg26"><stop offset="0" stop-color="rgb(107,107,107)" stop-opacity="1.00"/><stop offset="0.3" stop-color="rgb(107,107,107)" stop-opacity="0.82"/><stop offset="0.6" stop-color="rgb(107,107,107)" stop-opacity="0.40"/><stop offset="0.85" stop-color="rgb(107,107,107)" stop-opacity="0.10"/><stop offset="1" stop-color="rgb(107,107,107)" stop-opacity="0.00"/></radialGradient><clipPath id="cp27"><polygon points="67.6,327.8 107.0,331.5 107.0,361.1 61.4,361.1"/></clipPath><radialGradient id="rg28"><stop offset="0" stop-color="rgb(71,71,71)" stop-opacity="1.00"/><stop offset="0.3" stop-color="rgb(71,71,71)" stop-opacity="0.82"/><stop offset="0.6" stop-color="rgb(71,71,71)" stop-opacity="0.40"/><stop offset="0.85" stop-color="rgb(71,71,71)" stop-opacity="0.10"/><stop offset="1" stop-color="rgb(71,71,71)" stop-opacity="0.00"/></radialGradient><radialGradient id="rg29"><stop offset="0" stop-color="rgb(82,82,82)" stop-opacity="1.00"/><stop offset="0.3" stop-color="rgb(82,82,82)" stop-opacity="0.82"/><stop offset="0.6" stop-color="rgb(82,82,82)" stop-opacity="0.40"/><stop offset="0.85" stop-color="rgb(82,82,82)" stop-opacity="0.10"/><stop offset="1" stop-color="rgb(82,82,82)" stop-opacity="0.00"/></radialGradient><radialGradient id="rg30"><stop offset="0" stop-color="rgb(173,173,173)" stop-opacity="1.00"/><stop offset="0.3" stop-color="rgb(173,173,173)" stop-opacity="0.82"/><stop offset="0.6" stop-color="rgb(173,173,173)" stop-opacity="0.40"/><stop offset="0.85" stop-color="rgb(173,173,173)" stop-opacity="0.10"/><stop offset="1" stop-color="rgb(173,173,173)" stop-opacity="0.00"/></radialGradient><radialGradient id="rg31"><stop offset="0" stop-color="rgb(184,184,184)" stop-opacity="1.00"/><stop offset="0.3" stop-color="rgb(184,184,184)" stop-opacity="0.82"/><stop offset="0.6" stop-color="rgb(184,184,184)" stop-opacity="0.40"/><stop offset="0.85" stop-color="rgb(184,184,184)" stop-opacity="0.10"/><stop offset="1" stop-color="rgb(184,184,184)" stop-opacity="0.00"/></radialGradient><radialGradient id="rg32"><stop offset="0" stop-color="rgb(107,107,107)" stop-opacity="1.00"/><stop offset="0.3" stop-color="rgb(107,107,107)" stop-opacity="0.82"/><stop offset="0.6" stop-color="rgb(107,107,107)" stop-opacity="0.40"/><stop offset="0.85" stop-color="rgb(107,107,107)" stop-opacity="0.10"/><stop offset="1" stop-color="rgb(107,107,107)" stop-opacity="0.00"/></radialGradient><clipPath id="cp33"><polygon points="133.4,322.9 170.0,325.3 171.2,358.7 133.4,359.9"/></clipPath><clipPath id="ic34"><rect x="58.2" y="279.7" width="124.60000000000001" height="83.90000000000003"/></clipPath><radialGradient id="rg35"><stop offset="0" stop-color="rgb(240,240,240)" stop-opacity="1.00"/><stop offset="0.3" stop-color="rgb(240,240,240)" stop-opacity="0.82"/><stop offset="0.6" stop-color="rgb(240,240,240)" stop-opacity="0.40"/><stop offset="0.85" stop-color="rgb(240,240,240)" stop-opacity="0.10"/><stop offset="1" stop-color="rgb(240,240,240)" stop-opacity="0.00"/></radialGradient><radialGradient id="rg36"><stop offset="0" stop-color="rgb(117,117,117)" stop-opacity="1.00"/><stop offset="0.3" stop-color="rgb(117,117,117)" stop-opacity="0.82"/><stop offset="0.6" stop-color="rgb(117,117,117)" stop-opacity="0.40"/><stop offset="0.85" stop-color="rgb(117,117,117)" stop-opacity="0.10"/><stop offset="1" stop-color="rgb(117,117,117)" stop-opacity="0.00"/></radialGradient><radialGradient id="rg37"><stop offset="0" stop-color="rgb(143,143,143)" stop-opacity="1.00"/><stop offset="0.3" stop-color="rgb(143,143,143)" stop-opacity="0.82"/><stop offset="0.6" stop-color="rgb(143,143,143)" stop-opacity="0.40"/><stop offset="0.85" stop-color="rgb(143,143,143)" stop-opacity="0.10"/><stop offset="1" stop-color="rgb(143,143,143)" stop-opacity="0.00"/></radialGradient><radialGradient id="rg38"><stop offset="0" stop-color="rgb(117,117,117)" stop-opacity="1.00"/><stop offset="0.3" stop-color="rgb(117,117,117)" stop-opacity="0.82"/><stop offset="0.6" stop-color="rgb(117,117,117)" stop-opacity="0.40"/><stop offset="0.85" stop-color="rgb(117,117,117)" stop-opacity="0.10"/><stop offset="1" stop-color="rgb(117,117,117)" stop-opacity="0.00"/></radialGradient><radialGradient id="rg39"><stop offset="0" stop-color="rgb(219,219,219)" stop-opacity="1.00"/><stop offset="0.3" stop-color="rgb(219,219,219)" stop-opacity="0.82"/><stop offset="0.6" stop-color="rgb(219,219,219)" stop-opacity="0.40"/><stop offset="0.85" stop-color="rgb(219,219,219)" stop-opacity="0.10"/><stop offset="1" stop-color="rgb(219,219,219)" stop-opacity="0.00"/></radialGradient><radialGradient id="rg40"><stop offset="0" stop-color="rgb(224,224,224)" stop-opacity="1.00"/><stop offset="0.3" stop-color="rgb(224,224,224)" stop-opacity="0.82"/><stop offset="0.6" stop-color="rgb(224,224,224)" stop-opacity="0.40"/><stop offset="0.85" stop-color="rgb(224,224,224)" stop-opacity="0.10"/><stop offset="1" stop-color="rgb(224,224,224)" stop-opacity="0.00"/></radialGradient><radialGradient id="rg41"><stop offset="0" stop-color="rgb(245,245,245)" stop-opacity="1.00"/><stop offset="0.3" stop-color="rgb(245,245,245)" stop-opacity="0.82"/><stop offset="0.6" stop-color="rgb(245,245,245)" stop-opacity="0.40"/><stop offset="0.85" stop-color="rgb(245,245,245)" stop-opacity="0.10"/><stop offset="1" stop-color="rgb(245,245,245)" stop-opacity="0.00"/></radialGradient><radialGradient id="rg42"><stop offset="0" stop-color="rgb(214,214,214)" stop-opacity="1.00"/><stop offset="0.3" stop-color="rgb(214,214,214)" stop-opacity="0.82"/><stop offset="0.6" stop-color="rgb(214,214,214)" stop-opacity="0.40"/><stop offset="0.85" stop-color="rgb(214,214,214)" stop-opacity="0.10"/><stop offset="1" stop-color="rgb(214,214,214)" stop-opacity="0.00"/></radialGradient><radialGradient id="rg43"><stop offset="0" stop-color="rgb(214,214,214)" stop-opacity="1.00"/><stop offset="0.3" stop-color="rgb(214,214,214)" stop-opacity="0.82"/><stop offset="0.6" stop-color="rgb(214,214,214)" stop-opacity="0.40"/><stop offset="0.85" stop-color="rgb(214,214,214)" stop-opacity="0.10"/><stop offset="1" stop-color="rgb(214,214,214)" stop-opacity="0.00"/></radialGradient><radialGradient id="rg44"><stop offset="0" stop-color="rgb(224,224,224)" stop-opacity="1.00"/><stop offset="0.3" stop-color="rgb(224,224,224)" stop-opacity="0.82"/><stop offset="0.6" stop-color="rgb(224,224,224)" stop-opacity="0.40"/><stop offset="0.85" stop-color="rgb(224,224,224)" stop-opacity="0.10"/><stop offset="1" stop-color="rgb(224,224,224)" stop-opacity="0.00"/></radialGradient><radialGradient id="rg45"><stop offset="0" stop-color="rgb(235,235,235)" stop-opacity="1.00"/><stop offset="0.3" stop-color="rgb(235,235,235)" stop-opacity="0.82"/><stop offset="0.6" stop-color="rgb(235,235,235)" stop-opacity="0.40"/><stop offset="0.85" stop-color="rgb(235,235,235)" stop-opacity="0.10"/><stop offset="1" stop-color="rgb(235,235,235)" stop-opacity="0.00"/></radialGradient><radialGradient id="rg46"><stop offset="0" stop-color="rgb(148,148,148)" stop-opacity="1.00"/><stop offset="0.3" stop-color="rgb(148,148,148)" stop-opacity="0.82"/><stop offset="0.6" stop-color="rgb(148,148,148)" stop-opacity="0.40"/><stop offset="0.85" stop-color="rgb(148,148,148)" stop-opacity="0.10"/><stop offset="1" stop-color="rgb(148,148,148)" stop-opacity="0.00"/></radialGradient><radialGradient id="rg47"><stop offset="0" stop-color="rgb(235,235,235)" stop-opacity="1.00"/><stop offset="0.3" stop-color="rgb(235,235,235)" stop-opacity="0.82"/><stop offset="0.6" stop-color="rgb(235,235,235)" stop-opacity="0.40"/><stop offset="0.85" stop-color="rgb(235,235,235)" stop-opacity="0.10"/><stop offset="1" stop-color="rgb(235,235,235)" stop-opacity="0.00"/></radialGradient><radialGradient id="rg48"><stop offset="0" stop-color="rgb(128,128,128)" stop-opacity="1.00"/><stop offset="0.3" stop-color="rgb(128,128,128)" stop-opacity="0.82"/><stop offset="0.6" stop-color="rgb(128,128,128)" stop-opacity="0.40"/><stop offset="0.85" stop-color="rgb(128,128,128)" stop-opacity="0.10"/><stop offset="1" stop-color="rgb(128,128,128)" stop-opacity="0.00"/></radialGradient><radialGradient id="rg49"><stop offset="0" stop-color="rgb(140,140,140)" stop-opacity="1.00"/><stop offset="0.3" stop-color="rgb(140,140,140)" stop-opacity="0.82"/><stop offset="0.6" stop-color="rgb(140,140,140)" stop-opacity="0.40"/><stop offset="0.85" stop-color="rgb(140,140,140)" stop-opacity="0.10"/><stop offset="1" stop-color="rgb(140,140,140)" stop-opacity="0.00"/></radialGradient><radialGradient id="rg50"><stop offset="0" stop-color="rgb(158,158,158)" stop-opacity="1.00"/><stop offset="0.3" stop-color="rgb(158,158,158)" stop-opacity="0.82"/><stop offset="0.6" stop-color="rgb(158,158,158)" stop-opacity="0.40"/><stop offset="0.85" stop-color="rgb(158,158,158)" stop-opacity="0.10"/><stop offset="1" stop-color="rgb(158,158,158)" stop-opacity="0.00"/></radialGradient><clipPath id="cp51"><polygon points="234.4,285.9 276.4,287.1 277.6,314.2 230.7,315.5"/></clipPath><radialGradient id="rg52"><stop offset="0" stop-color="rgb(71,71,71)" stop-opacity="1.00"/><stop offset="0.3" stop-color="rgb(71,71,71)" stop-opacity="0.82"/><stop offset="0.6" stop-color="rgb(71,71,71)" stop-opacity="0.40"/><stop offset="0.85" stop-color="rgb(71,71,71)" stop-opacity="0.10"/><stop offset="1" stop-color="rgb(71,71,71)" stop-opacity="0.00"/></radialGradient><radialGradient id="rg53"><stop offset="0" stop-color="rgb(189,189,189)" stop-opacity="1.00"/><stop offset="0.3" stop-color="rgb(189,189,189)" stop-opacity="0.82"/><stop offset="0.6" stop-color="rgb(189,189,189)" stop-opacity="0.40"/><stop offset="0.85" stop-color="rgb(189,189,189)" stop-opacity="0.10"/><stop offset="1" stop-color="rgb(189,189,189)" stop-opacity="0.00"/></radialGradient><radialGradient id="rg54"><stop offset="0" stop-color="rgb(115,115,115)" stop-opacity="1.00"/><stop offset="0.3" stop-color="rgb(115,115,115)" stop-opacity="0.82"/><stop offset="0.6" stop-color="rgb(115,115,115)" stop-opacity="0.40"/><stop offset="0.85" stop-color="rgb(115,115,115)" stop-opacity="0.10"/><stop offset="1" stop-color="rgb(115,115,115)" stop-opacity="0.00"/></radialGradient><clipPath id="cp55"><polygon points="290.0,283.9 324.5,285.4 327.0,310.5 291.2,313.0"/></clipPath><radialGradient id="rg56"><stop offset="0" stop-color="rgb(71,71,71)" stop-opacity="1.00"/><stop offset="0.3" stop-color="rgb(71,71,71)" stop-opacity="0.82"/><stop offset="0.6" stop-color="rgb(71,71,71)" stop-opacity="0.40"/><stop offset="0.85" stop-color="rgb(71,71,71)" stop-opacity="0.10"/><stop offset="1" stop-color="rgb(71,71,71)" stop-opacity="0.00"/></radialGradient><radialGradient id="rg57"><stop offset="0" stop-color="rgb(158,158,158)" stop-opacity="1.00"/><stop offset="0.3" stop-color="rgb(158,158,158)" stop-opacity="0.82"/><stop offset="0.6" stop-color="rgb(158,158,158)" stop-opacity="0.40"/><stop offset="0.85" stop-color="rgb(158,158,158)" stop-opacity="0.10"/><stop offset="1" stop-color="rgb(158,158,158)" stop-opacity="0.00"/></radialGradient><radialGradient id="rg58"><stop offset="0" stop-color="rgb(158,158,158)" stop-opacity="1.00"/><stop offset="0.3" stop-color="rgb(158,158,158)" stop-opacity="0.82"/><stop offset="0.6" stop-color="rgb(158,158,158)" stop-opacity="0.40"/><stop offset="0.85" stop-color="rgb(158,158,158)" stop-opacity="0.10"/><stop offset="1" stop-color="rgb(158,158,158)" stop-opacity="0.00"/></radialGradient><radialGradient id="rg59"><stop offset="0" stop-color="rgb(148,148,148)" stop-opacity="1.00"/><stop offset="0.3" stop-color="rgb(148,148,148)" stop-opacity="0.82"/><stop offset="0.6" stop-color="rgb(148,148,148)" stop-opacity="0.40"/><stop offset="0.85" stop-color="rgb(148,148,148)" stop-opacity="0.10"/><stop offset="1" stop-color="rgb(148,148,148)" stop-opacity="0.00"/></radialGradient><clipPath id="cp60"><polygon points="225.3,330.3 266.5,331.5 266.5,361.1 220.9,363.6"/></clipPath><radialGradient id="rg61"><stop offset="0" stop-color="rgb(82,82,82)" stop-opacity="1.00"/><stop offset="0.3" stop-color="rgb(82,82,82)" stop-opacity="0.82"/><stop offset="0.6" stop-color="rgb(82,82,82)" stop-opacity="0.40"/><stop offset="0.85" stop-color="rgb(82,82,82)" stop-opacity="0.10"/><stop offset="1" stop-color="rgb(82,82,82)" stop-opacity="0.00"/></radialGradient><radialGradient id="rg62"><stop offset="0" stop-color="rgb(87,87,87)" stop-opacity="1.00"/><stop offset="0.3" stop-color="rgb(87,87,87)" stop-opacity="0.82"/><stop offset="0.6" stop-color="rgb(87,87,87)" stop-opacity="0.40"/><stop offset="0.85" stop-color="rgb(87,87,87)" stop-opacity="0.10"/><stop offset="1" stop-color="rgb(87,87,87)" stop-opacity="0.00"/></radialGradient><radialGradient id="rg63"><stop offset="0" stop-color="rgb(189,189,189)" stop-opacity="1.00"/><stop offset="0.3" stop-color="rgb(189,189,189)" stop-opacity="0.82"/><stop offset="0.6" stop-color="rgb(189,189,189)" stop-opacity="0.40"/><stop offset="0.85" stop-color="rgb(189,189,189)" stop-opacity="0.10"/><stop offset="1" stop-color="rgb(189,189,189)" stop-opacity="0.00"/></radialGradient><radialGradient id="rg64"><stop offset="0" stop-color="rgb(168,168,168)" stop-opacity="1.00"/><stop offset="0.3" stop-color="rgb(168,168,168)" stop-opacity="0.82"/><stop offset="0.6" stop-color="rgb(168,168,168)" stop-opacity="0.40"/><stop offset="0.85" stop-color="rgb(168,168,168)" stop-opacity="0.10"/><stop offset="1" stop-color="rgb(168,168,168)" stop-opacity="0.00"/></radialGradient><clipPath id="cp65"><polygon points="292.4,321.6 330.6,320.4 333.1,356.2 293.6,358.6"/></clipPath><clipPath id="ic66"><rect x="215.4" y="279.7" width="120.20000000000002" height="83.90000000000003"/></clipPath><radialGradient id="rg67"><stop offset="0" stop-color="rgb(117,117,117)" stop-opacity="1.00"/><stop offset="0.3" stop-color="rgb(117,117,117)" stop-opacity="0.82"/><stop offset="0.6" stop-color="rgb(117,117,117)" stop-opacity="0.40"/><stop offset="0.85" stop-color="rgb(117,117,117)" stop-opacity="0.10"/><stop offset="1" stop-color="rgb(117,117,117)" stop-opacity="0.00"/></radialGradient><radialGradient id="rg68"><stop offset="0" stop-color="rgb(133,133,133)" stop-opacity="1.00"/><stop offset="0.3" stop-color="rgb(133,133,133)" stop-opacity="0.82"/><stop offset="0.6" stop-color="rgb(133,133,133)" stop-opacity="0.40"/><stop offset="0.85" stop-color="rgb(133,133,133)" stop-opacity="0.10"/><stop offset="1" stop-color="rgb(133,133,133)" stop-opacity="0.00"/></radialGradient><radialGradient id="rg69"><stop offset="0" stop-color="rgb(224,224,224)" stop-opacity="1.00"/><stop offset="0.3" stop-color="rgb(224,224,224)" stop-opacity="0.82"/><stop offset="0.6" stop-color="rgb(224,224,224)" stop-opacity="0.40"/><stop offset="0.85" stop-color="rgb(224,224,224)" stop-opacity="0.10"/><stop offset="1" stop-color="rgb(224,224,224)" stop-opacity="0.00"/></radialGradient><radialGradient id="rg70"><stop offset="0" stop-color="rgb(230,230,230)" stop-opacity="1.00"/><stop offset="0.3" stop-color="rgb(230,230,230)" stop-opacity="0.82"/><stop offset="0.6" stop-color="rgb(230,230,230)" stop-opacity="0.40"/><stop offset="0.85" stop-color="rgb(230,230,230)" stop-opacity="0.10"/><stop offset="1" stop-color="rgb(230,230,230)" stop-opacity="0.00"/></radialGradient><radialGradient id="rg71"><stop offset="0" stop-color="rgb(158,158,158)" stop-opacity="1.00"/><stop offset="0.3" stop-color="rgb(158,158,158)" stop-opacity="0.82"/><stop offset="0.6" stop-color="rgb(158,158,158)" stop-opacity="0.40"/><stop offset="0.85" stop-color="rgb(158,158,158)" stop-opacity="0.10"/><stop offset="1" stop-color="rgb(158,158,158)" stop-opacity="0.00"/></radialGradient><radialGradient id="rg72"><stop offset="0" stop-color="rgb(247,247,247)" stop-opacity="1.00"/><stop offset="0.3" stop-color="rgb(247,247,247)" stop-opacity="0.82"/><stop offset="0.6" stop-color="rgb(247,247,247)" stop-opacity="0.40"/><stop offset="0.85" stop-color="rgb(247,247,247)" stop-opacity="0.10"/><stop offset="1" stop-color="rgb(247,247,247)" stop-opacity="0.00"/></radialGradient><radialGradient id="rg73"><stop offset="0" stop-color="rgb(224,224,224)" stop-opacity="1.00"/><stop offset="0.3" stop-color="rgb(224,224,224)" stop-opacity="0.82"/><stop offset="0.6" stop-color="rgb(224,224,224)" stop-opacity="0.40"/><stop offset="0.85" stop-color="rgb(224,224,224)" stop-opacity="0.10"/><stop offset="1" stop-color="rgb(224,224,224)" stop-opacity="0.00"/></radialGradient><radialGradient id="rg74"><stop offset="0" stop-color="rgb(237,237,237)" stop-opacity="1.00"/><stop offset="0.3" stop-color="rgb(237,237,237)" stop-opacity="0.82"/><stop offset="0.6" stop-color="rgb(237,237,237)" stop-opacity="0.40"/><stop offset="0.85" stop-color="rgb(237,237,237)" stop-opacity="0.10"/><stop offset="1" stop-color="rgb(237,237,237)" stop-opacity="0.00"/></radialGradient><radialGradient id="rg75"><stop offset="0" stop-color="rgb(224,224,224)" stop-opacity="1.00"/><stop offset="0.3" stop-color="rgb(224,224,224)" stop-opacity="0.82"/><stop offset="0.6" stop-color="rgb(224,224,224)" stop-opacity="0.40"/><stop offset="0.85" stop-color="rgb(224,224,224)" stop-opacity="0.10"/><stop offset="1" stop-color="rgb(224,224,224)" stop-opacity="0.00"/></radialGradient><radialGradient id="rg76"><stop offset="0" stop-color="rgb(224,224,224)" stop-opacity="1.00"/><stop offset="0.3" stop-color="rgb(224,224,224)" stop-opacity="0.82"/><stop offset="0.6" stop-color="rgb(224,224,224)" stop-opacity="0.40"/><stop offset="0.85" stop-color="rgb(224,224,224)" stop-opacity="0.10"/><stop offset="1" stop-color="rgb(224,224,224)" stop-opacity="0.00"/></radialGradient><radialGradient id="rg77"><stop offset="0" stop-color="rgb(237,237,237)" stop-opacity="1.00"/><stop offset="0.3" stop-color="rgb(237,237,237)" stop-opacity="0.82"/><stop offset="0.6" stop-color="rgb(237,237,237)" stop-opacity="0.40"/><stop offset="0.85" stop-color="rgb(237,237,237)" stop-opacity="0.10"/><stop offset="1" stop-color="rgb(237,237,237)" stop-opacity="0.00"/></radialGradient><radialGradient id="rg78"><stop offset="0" stop-color="rgb(143,143,143)" stop-opacity="1.00"/><stop offset="0.3" stop-color="rgb(143,143,143)" stop-opacity="0.82"/><stop offset="0.6" stop-color="rgb(143,143,143)" stop-opacity="0.40"/><stop offset="0.85" stop-color="rgb(143,143,143)" stop-opacity="0.10"/><stop offset="1" stop-color="rgb(143,143,143)" stop-opacity="0.00"/></radialGradient><radialGradient id="rg79"><stop offset="0" stop-color="rgb(230,230,230)" stop-opacity="1.00"/><stop offset="0.3" stop-color="rgb(230,230,230)" stop-opacity="0.82"/><stop offset="0.6" stop-color="rgb(230,230,230)" stop-opacity="0.40"/><stop offset="0.85" stop-color="rgb(230,230,230)" stop-opacity="0.10"/><stop offset="1" stop-color="rgb(230,230,230)" stop-opacity="0.00"/></radialGradient><radialGradient id="rg80"><stop offset="0" stop-color="rgb(140,140,140)" stop-opacity="1.00"/><stop offset="0.3" stop-color="rgb(140,140,140)" stop-opacity="0.82"/><stop offset="0.6" stop-color="rgb(140,140,140)" stop-opacity="0.40"/><stop offset="0.85" stop-color="rgb(140,140,140)" stop-opacity="0.10"/><stop offset="1" stop-color="rgb(140,140,140)" stop-opacity="0.00"/></radialGradient><clipPath id="cp81"><polygon points="387.8,286.4 424.8,286.4 421.0,314.3 387.3,315.5"/></clipPath><radialGradient id="rg82"><stop offset="0" stop-color="rgb(76,76,76)" stop-opacity="1.00"/><stop offset="0.3" stop-color="rgb(76,76,76)" stop-opacity="0.82"/><stop offset="0.6" stop-color="rgb(76,76,76)" stop-opacity="0.40"/><stop offset="0.85" stop-color="rgb(76,76,76)" stop-opacity="0.10"/><stop offset="1" stop-color="rgb(76,76,76)" stop-opacity="0.00"/></radialGradient><radialGradient id="rg83"><stop offset="0" stop-color="rgb(184,184,184)" stop-opacity="1.00"/><stop offset="0.3" stop-color="rgb(184,184,184)" stop-opacity="0.82"/><stop offset="0.6" stop-color="rgb(184,184,184)" stop-opacity="0.40"/><stop offset="0.85" stop-color="rgb(184,184,184)" stop-opacity="0.10"/><stop offset="1" stop-color="rgb(184,184,184)" stop-opacity="0.00"/></radialGradient><radialGradient id="rg84"><stop offset="0" stop-color="rgb(122,122,122)" stop-opacity="1.00"/><stop offset="0.3" stop-color="rgb(122,122,122)" stop-opacity="0.82"/><stop offset="0.6" stop-color="rgb(122,122,122)" stop-opacity="0.40"/><stop offset="0.85" stop-color="rgb(122,122,122)" stop-opacity="0.10"/><stop offset="1" stop-color="rgb(122,122,122)" stop-opacity="0.00"/></radialGradient><clipPath id="cp85"><polygon points="437.0,286.0 468.0,288.3 469.2,313.0 438.4,314.3"/></clipPath><radialGradient id="rg86"><stop offset="0" stop-color="rgb(76,76,76)" stop-opacity="1.00"/><stop offset="0.3" stop-color="rgb(76,76,76)" stop-opacity="0.82"/><stop offset="0.6" stop-color="rgb(76,76,76)" stop-opacity="0.40"/><stop offset="0.85" stop-color="rgb(76,76,76)" stop-opacity="0.10"/><stop offset="1" stop-color="rgb(76,76,76)" stop-opacity="0.00"/></radialGradient><radialGradient id="rg87"><stop offset="0" stop-color="rgb(163,163,163)" stop-opacity="1.00"/><stop offset="0.3" stop-color="rgb(163,163,163)" stop-opacity="0.82"/><stop offset="0.6" stop-color="rgb(163,163,163)" stop-opacity="0.40"/><stop offset="0.85" stop-color="rgb(163,163,163)" stop-opacity="0.10"/><stop offset="1" stop-color="rgb(163,163,163)" stop-opacity="0.00"/></radialGradient><clipPath id="cp88"><polygon points="382.3,329.8 418.6,332.8 419.4,358.7 380.3,360.0"/></clipPath><radialGradient id="rg89"><stop offset="0" stop-color="rgb(128,128,128)" stop-opacity="1.00"/><stop offset="0.3" stop-color="rgb(128,128,128)" stop-opacity="0.82"/><stop offset="0.6" stop-color="rgb(128,128,128)" stop-opacity="0.40"/><stop offset="0.85" stop-color="rgb(128,128,128)" stop-opacity="0.10"/><stop offset="1" stop-color="rgb(128,128,128)" stop-opacity="0.00"/></radialGradient><radialGradient id="rg90"><stop offset="0" stop-color="rgb(173,173,173)" stop-opacity="1.00"/><stop offset="0.3" stop-color="rgb(173,173,173)" stop-opacity="0.82"/><stop offset="0.6" stop-color="rgb(173,173,173)" stop-opacity="0.40"/><stop offset="0.85" stop-color="rgb(173,173,173)" stop-opacity="0.10"/><stop offset="1" stop-color="rgb(173,173,173)" stop-opacity="0.00"/></radialGradient><clipPath id="cp91"><polygon points="439.6,324.0 469.2,325.4 473.7,356.2 442.0,358.7"/></clipPath><clipPath id="ic92"><rect x="372.4" y="280.4" width="107.90000000000003" height="83.30000000000001"/></clipPath><radialGradient id="rg93"><stop offset="0" stop-color="rgb(128,128,128)" stop-opacity="1.00"/><stop offset="0.3" stop-color="rgb(128,128,128)" stop-opacity="0.82"/><stop offset="0.6" stop-color="rgb(128,128,128)" stop-opacity="0.40"/><stop offset="0.85" stop-color="rgb(128,128,128)" stop-opacity="0.10"/><stop offset="1" stop-color="rgb(128,128,128)" stop-opacity="0.00"/></radialGradient><radialGradient id="rg94"><stop offset="0" stop-color="rgb(143,143,143)" stop-opacity="1.00"/><stop offset="0.3" stop-color="rgb(143,143,143)" stop-opacity="0.82"/><stop offset="0.6" stop-color="rgb(143,143,143)" stop-opacity="0.40"/><stop offset="0.85" stop-color="rgb(143,143,143)" stop-opacity="0.10"/><stop offset="1" stop-color="rgb(143,143,143)" stop-opacity="0.00"/></radialGradient><radialGradient id="rg95"><stop offset="0" stop-color="rgb(235,235,235)" stop-opacity="1.00"/><stop offset="0.3" stop-color="rgb(235,235,235)" stop-opacity="0.82"/><stop offset="0.6" stop-color="rgb(235,235,235)" stop-opacity="0.40"/><stop offset="0.85" stop-color="rgb(235,235,235)" stop-opacity="0.10"/><stop offset="1" stop-color="rgb(235,235,235)" stop-opacity="0.00"/></radialGradient><radialGradient id="rg96"><stop offset="0" stop-color="rgb(230,230,230)" stop-opacity="1.00"/><stop offset="0.3" stop-color="rgb(230,230,230)" stop-opacity="0.82"/><stop offset="0.6" stop-color="rgb(230,230,230)" stop-opacity="0.40"/><stop offset="0.85" stop-color="rgb(230,230,230)" stop-opacity="0.10"/><stop offset="1" stop-color="rgb(230,230,230)" stop-opacity="0.00"/></radialGradient><radialGradient id="rg97"><stop offset="0" stop-color="rgb(245,245,245)" stop-opacity="1.00"/><stop offset="0.3" stop-color="rgb(245,245,245)" stop-opacity="0.82"/><stop offset="0.6" stop-color="rgb(245,245,245)" stop-opacity="0.40"/><stop offset="0.85" stop-color="rgb(245,245,245)" stop-opacity="0.10"/><stop offset="1" stop-color="rgb(245,245,245)" stop-opacity="0.00"/></radialGradient><radialGradient id="rg98"><stop offset="0" stop-color="rgb(224,224,224)" stop-opacity="1.00"/><stop offset="0.3" stop-color="rgb(224,224,224)" stop-opacity="0.82"/><stop offset="0.6" stop-color="rgb(224,224,224)" stop-opacity="0.40"/><stop offset="0.85" stop-color="rgb(224,224,224)" stop-opacity="0.10"/><stop offset="1" stop-color="rgb(224,224,224)" stop-opacity="0.00"/></radialGradient><radialGradient id="rg99"><stop offset="0" stop-color="rgb(255,255,255)" stop-opacity="1.00"/><stop offset="0.3" stop-color="rgb(255,255,255)" stop-opacity="0.82"/><stop offset="0.6" stop-color="rgb(255,255,255)" stop-opacity="0.40"/><stop offset="0.85" stop-color="rgb(255,255,255)" stop-opacity="0.10"/><stop offset="1" stop-color="rgb(255,255,255)" stop-opacity="0.00"/></radialGradient><radialGradient id="rg100"><stop offset="0" stop-color="rgb(230,230,230)" stop-opacity="1.00"/><stop offset="0.3" stop-color="rgb(230,230,230)" stop-opacity="0.82"/><stop offset="0.6" stop-color="rgb(230,230,230)" stop-opacity="0.40"/><stop offset="0.85" stop-color="rgb(230,230,230)" stop-opacity="0.10"/><stop offset="1" stop-color="rgb(230,230,230)" stop-opacity="0.00"/></radialGradient><radialGradient id="rg101"><stop offset="0" stop-color="rgb(224,224,224)" stop-opacity="1.00"/><stop offset="0.3" stop-color="rgb(224,224,224)" stop-opacity="0.82"/><stop offset="0.6" stop-color="rgb(224,224,224)" stop-opacity="0.40"/><stop offset="0.85" stop-color="rgb(224,224,224)" stop-opacity="0.10"/><stop offset="1" stop-color="rgb(224,224,224)" stop-opacity="0.00"/></radialGradient><radialGradient id="rg102"><stop offset="0" stop-color="rgb(240,240,240)" stop-opacity="1.00"/><stop offset="0.3" stop-color="rgb(240,240,240)" stop-opacity="0.82"/><stop offset="0.6" stop-color="rgb(240,240,240)" stop-opacity="0.40"/><stop offset="0.85" stop-color="rgb(240,240,240)" stop-opacity="0.10"/><stop offset="1" stop-color="rgb(240,240,240)" stop-opacity="0.00"/></radialGradient><radialGradient id="rg103"><stop offset="0" stop-color="rgb(235,235,235)" stop-opacity="1.00"/><stop offset="0.3" stop-color="rgb(235,235,235)" stop-opacity="0.82"/><stop offset="0.6" stop-color="rgb(235,235,235)" stop-opacity="0.40"/><stop offset="0.85" stop-color="rgb(235,235,235)" stop-opacity="0.10"/><stop offset="1" stop-color="rgb(235,235,235)" stop-opacity="0.00"/></radialGradient><radialGradient id="rg104"><stop offset="0" stop-color="rgb(148,148,148)" stop-opacity="1.00"/><stop offset="0.3" stop-color="rgb(148,148,148)" stop-opacity="0.82"/><stop offset="0.6" stop-color="rgb(148,148,148)" stop-opacity="0.40"/><stop offset="0.85" stop-color="rgb(148,148,148)" stop-opacity="0.10"/><stop offset="1" stop-color="rgb(148,148,148)" stop-opacity="0.00"/></radialGradient><clipPath id="cp105"><polygon points="526.3,289.6 559.6,289.6 558.4,315.5 525.0,316.7"/></clipPath><radialGradient id="rg106"><stop offset="0" stop-color="rgb(87,87,87)" stop-opacity="1.00"/><stop offset="0.3" stop-color="rgb(87,87,87)" stop-opacity="0.82"/><stop offset="0.6" stop-color="rgb(87,87,87)" stop-opacity="0.40"/><stop offset="0.85" stop-color="rgb(87,87,87)" stop-opacity="0.10"/><stop offset="1" stop-color="rgb(87,87,87)" stop-opacity="0.00"/></radialGradient><radialGradient id="rg107"><stop offset="0" stop-color="rgb(184,184,184)" stop-opacity="1.00"/><stop offset="0.3" stop-color="rgb(184,184,184)" stop-opacity="0.82"/><stop offset="0.6" stop-color="rgb(184,184,184)" stop-opacity="0.40"/><stop offset="0.85" stop-color="rgb(184,184,184)" stop-opacity="0.10"/><stop offset="1" stop-color="rgb(184,184,184)" stop-opacity="0.00"/></radialGradient><radialGradient id="rg108"><stop offset="0" stop-color="rgb(128,128,128)" stop-opacity="1.00"/><stop offset="0.3" stop-color="rgb(128,128,128)" stop-opacity="0.82"/><stop offset="0.6" stop-color="rgb(128,128,128)" stop-opacity="0.40"/><stop offset="0.85" stop-color="rgb(128,128,128)" stop-opacity="0.10"/><stop offset="1" stop-color="rgb(128,128,128)" stop-opacity="0.00"/></radialGradient><clipPath id="cp109"><polygon points="575.7,289.6 605.3,292.0 606.5,318.0 576.9,319.2"/></clipPath><radialGradient id="rg110"><stop offset="0" stop-color="rgb(87,87,87)" stop-opacity="1.00"/><stop offset="0.3" stop-color="rgb(87,87,87)" stop-opacity="0.82"/><stop offset="0.6" stop-color="rgb(87,87,87)" stop-opacity="0.40"/><stop offset="0.85" stop-color="rgb(87,87,87)" stop-opacity="0.10"/><stop offset="1" stop-color="rgb(87,87,87)" stop-opacity="0.00"/></radialGradient><radialGradient id="rg111"><stop offset="0" stop-color="rgb(178,178,178)" stop-opacity="1.00"/><stop offset="0.3" stop-color="rgb(178,178,178)" stop-opacity="0.82"/><stop offset="0.6" stop-color="rgb(178,178,178)" stop-opacity="0.40"/><stop offset="0.85" stop-color="rgb(178,178,178)" stop-opacity="0.10"/><stop offset="1" stop-color="rgb(178,178,178)" stop-opacity="0.00"/></radialGradient><clipPath id="cp112"><polygon points="520.1,332.3 554.7,334.0 555.9,360.0 518.9,361.2"/></clipPath><radialGradient id="rg113"><stop offset="0" stop-color="rgb(128,128,128)" stop-opacity="1.00"/><stop offset="0.3" stop-color="rgb(128,128,128)" stop-opacity="0.82"/><stop offset="0.6" stop-color="rgb(128,128,128)" stop-opacity="0.40"/><stop offset="0.85" stop-color="rgb(128,128,128)" stop-opacity="0.10"/><stop offset="1" stop-color="rgb(128,128,128)" stop-opacity="0.00"/></radialGradient><radialGradient id="rg114"><stop offset="0" stop-color="rgb(178,178,178)" stop-opacity="1.00"/><stop offset="0.3" stop-color="rgb(178,178,178)" stop-opacity="0.82"/><stop offset="0.6" stop-color="rgb(178,178,178)" stop-opacity="0.40"/><stop offset="0.85" stop-color="rgb(178,178,178)" stop-opacity="0.10"/><stop offset="1" stop-color="rgb(178,178,178)" stop-opacity="0.00"/></radialGradient><clipPath id="cp115"><polygon points="579.4,326.6 607.8,327.9 610.2,358.7 580.6,360.0"/></clipPath><clipPath id="ic116"><rect x="513" y="281" width="105.10000000000002" height="83.39999999999998"/></clipPath></defs><g clip-path="url(#ic34)"><g filter="url(#irn)"><rect x="55.2" y="276.7" width="130.60000000000002" height="89.90000000000003" fill="rgb(194,194,194)"/><ellipse cx="150" cy="281" rx="60" ry="10" fill="url(#rg1)"/><ellipse cx="95" cy="280" rx="34" ry="5" fill="url(#rg2)"/><ellipse cx="64" cy="292" rx="14" ry="18" fill="url(#rg3)"/><ellipse cx="62" cy="306" rx="10" ry="34" fill="url(#rg4)"/><ellipse cx="60" cy="306" rx="5" ry="9" fill="url(#rg5)"/><ellipse cx="58" cy="350" rx="6" ry="18" fill="url(#rg6)"/><ellipse cx="176" cy="304" rx="14" ry="40" fill="url(#rg7)"/><ellipse cx="155" cy="319" rx="40" ry="7" fill="url(#rg8)"/><ellipse cx="125" cy="298" rx="10" ry="24" fill="url(#rg9)"/><ellipse cx="126" cy="325" rx="8" ry="14" fill="url(#rg10)"/><ellipse cx="92" cy="322" rx="26" ry="8" fill="url(#rg11)"/><ellipse cx="120" cy="354" rx="14" ry="18" fill="url(#rg12)"/><ellipse cx="160" cy="362" rx="24" ry="6" fill="url(#rg13)"/><polygon points="77.4,284.6 118.6,285.4 116.2,313.0 72.5,311.8" fill="rgb(18,18,18)"/><g clip-path="url(#cp18)"><ellipse cx="99" cy="300" rx="26" ry="20" fill="url(#rg14)"/><ellipse cx="98" cy="300" rx="11" ry="9" fill="url(#rg15)"/><ellipse cx="117" cy="306" rx="9" ry="26" fill="url(#rg16)"/><ellipse cx="74" cy="306" rx="10" ry="12" fill="url(#rg17)"/></g><polygon points="133.0,284.6 166.3,285.9 168.7,313.0 133.4,314.2" fill="rgb(148,148,148)"/><g clip-path="url(#cp22)"><ellipse cx="134" cy="287" rx="24" ry="16" fill="url(#rg19)"/><ellipse cx="150" cy="300" rx="20" ry="16" fill="url(#rg20)"/><ellipse cx="168" cy="313" rx="18" ry="9" fill="url(#rg21)"/></g><polygon points="67.6,327.8 107.0,331.5 107.0,361.1 61.4,361.1" fill="rgb(76,76,76)"/><g clip-path="url(#cp27)"><ellipse cx="76" cy="346" rx="20" ry="16" fill="url(#rg23)"/><ellipse cx="102" cy="338" rx="16" ry="12" fill="url(#rg24)"/><ellipse cx="100" cy="359" rx="14" ry="7" fill="url(#rg25)"/><ellipse cx="64" cy="358" rx="8" ry="8" fill="url(#rg26)"/></g><polygon points="133.4,322.9 170.0,325.3 171.2,358.7 133.4,359.9" fill="rgb(117,117,117)"/><g clip-path="url(#cp33)"><ellipse cx="138" cy="342" rx="14" ry="34" fill="url(#rg28)"/><ellipse cx="150" cy="352" rx="8" ry="12" fill="url(#rg29)"/><ellipse cx="164" cy="343" rx="14" ry="12" fill="url(#rg30)"/><ellipse cx="160" cy="357" rx="18" ry="7" fill="url(#rg31)"/><ellipse cx="162" cy="330" rx="16" ry="7" fill="url(#rg32)"/></g></g></g><path d="M108.8,313.5H132.4V336.6H108.8ZM120.6,313.5V336.6M108.8,325.1H132.4" fill="none" stroke="#111" stroke-width="1.3"/><text x="114.7" y="322.7" font-size="9.6" text-anchor="middle" fill="#111" font-family="Liberation Sans, sans-serif">1</text><text x="126.5" y="322.7" font-size="9.6" text-anchor="middle" fill="#111" font-family="Liberation Sans, sans-serif">2</text><text x="114.7" y="334.2" font-size="9.6" text-anchor="middle" fill="#111" font-family="Liberation Sans, sans-serif">4</text><text x="126.5" y="334.2" font-size="9.6" text-anchor="middle" fill="#111" font-family="Liberation Sans, sans-serif">3</text><rect x="190.2" y="289.3" width="5.400000000000006" height="68.19999999999999" fill="url(#cbar)" filter="url(#irn0)"/><text x="192.9" y="286.5" font-size="8.1" text-anchor="middle" fill="#1a1a1a" stroke="#1a1a1a" stroke-width="0.2" font-family="Liberation Sans, sans-serif">41.7</text><text x="192.9" y="366.8" font-size="8.1" text-anchor="middle" fill="#1a1a1a" stroke="#1a1a1a" stroke-width="0.2" font-family="Liberation Sans, sans-serif">20.2</text><text x="118.7" y="275.7" font-size="8.8" text-anchor="middle" fill="#1a1a1a" font-family="Liberation Sans, sans-serif">0 min</text><g clip-path="url(#ic66)"><g filter="url(#irn)"><rect x="212.4" y="276.7" width="126.20000000000002" height="89.90000000000003" fill="rgb(204,204,204)"/><ellipse cx="217" cy="283" rx="14" ry="12" fill="url(#rg35)"/><ellipse cx="265" cy="281" rx="46" ry="8" fill="url(#rg36)"/><ellipse cx="226" cy="303" rx="8" ry="24" fill="url(#rg37)"/><ellipse cx="284" cy="298" rx="10" ry="26" fill="url(#rg38)"/><ellipse cx="318" cy="281" rx="24" ry="6" fill="url(#rg39)"/><ellipse cx="333" cy="300" rx="10" ry="34" fill="url(#rg40)"/><ellipse cx="312" cy="318" rx="36" ry="6" fill="url(#rg41)"/><ellipse cx="250" cy="322" rx="30" ry="8" fill="url(#rg42)"/><ellipse cx="217" cy="340" rx="6" ry="30" fill="url(#rg43)"/><ellipse cx="281" cy="350" rx="13" ry="20" fill="url(#rg44)"/><ellipse cx="315" cy="362" rx="26" ry="6" fill="url(#rg45)"/><ellipse cx="282" cy="326" rx="10" ry="10" fill="url(#rg46)"/><polygon points="234.4,285.9 276.4,287.1 277.6,314.2 230.7,315.5" fill="rgb(178,178,178)"/><g clip-path="url(#cp51)"><ellipse cx="256" cy="306" rx="38" ry="26" fill="url(#rg47)"/><ellipse cx="233" cy="288" rx="16" ry="12" fill="url(#rg48)"/><ellipse cx="277" cy="290" rx="8" ry="10" fill="url(#rg49)"/><ellipse cx="255" cy="287" rx="30" ry="4" fill="url(#rg50)"/></g><polygon points="234.4,285.9 276.4,287.1 277.6,314.2 230.7,315.5" fill="none" stroke="rgb(158,158,158)" stroke-width="1.3"/><polygon points="290.0,283.9 324.5,285.4 327.0,310.5 291.2,313.0" fill="rgb(153,153,153)"/><g clip-path="url(#cp55)"><ellipse cx="292" cy="286" rx="22" ry="16" fill="url(#rg52)"/><ellipse cx="322" cy="298" rx="30" ry="24" fill="url(#rg53)"/><ellipse cx="310" cy="313" rx="30" ry="6" fill="url(#rg54)"/></g><polygon points="225.3,330.3 266.5,331.5 266.5,361.1 220.9,363.6" fill="rgb(128,128,128)"/><g clip-path="url(#cp60)"><ellipse cx="226" cy="332" rx="22" ry="18" fill="url(#rg56)"/><ellipse cx="233" cy="346" rx="9" ry="8" fill="url(#rg57)"/><ellipse cx="264" cy="360" rx="22" ry="12" fill="url(#rg58)"/><ellipse cx="250" cy="340" rx="10" ry="8" fill="url(#rg59)"/></g><polygon points="292.4,321.6 330.6,320.4 333.1,356.2 293.6,358.6" fill="rgb(133,133,133)"/><g clip-path="url(#cp65)"><ellipse cx="297" cy="336" rx="16" ry="36" fill="url(#rg61)"/><ellipse cx="330" cy="332" rx="16" ry="18" fill="url(#rg62)"/><ellipse cx="322" cy="352" rx="20" ry="12" fill="url(#rg63)"/><ellipse cx="311" cy="336" rx="8" ry="10" fill="url(#rg64)"/></g></g></g><path d="M268.6,312.7H292.4V336.2H268.6ZM280.5,312.7V336.2M268.6,324.4H292.4" fill="none" stroke="#111" stroke-width="1.3"/><text x="274.6" y="322.0" font-size="9.6" text-anchor="middle" fill="#111" font-family="Liberation Sans, sans-serif">1</text><text x="286.4" y="322.0" font-size="9.6" text-anchor="middle" fill="#111" font-family="Liberation Sans, sans-serif">2</text><text x="274.6" y="333.7" font-size="9.6" text-anchor="middle" fill="#111" font-family="Liberation Sans, sans-serif">4</text><text x="286.4" y="333.7" font-size="9.6" text-anchor="middle" fill="#111" font-family="Liberation Sans, sans-serif">3</text><rect x="344.6" y="290.7" width="5.5" height="66.30000000000001" fill="url(#cbar)" filter="url(#irn0)"/><text x="347.4" y="286.3" font-size="8.1" text-anchor="middle" fill="#1a1a1a" stroke="#1a1a1a" stroke-width="0.2" font-family="Liberation Sans, sans-serif">40.5</text><text x="347.4" y="367" font-size="8.1" text-anchor="middle" fill="#1a1a1a" stroke="#1a1a1a" stroke-width="0.2" font-family="Liberation Sans, sans-serif">21</text><text x="271.6" y="275.7" font-size="8.8" text-anchor="middle" fill="#1a1a1a" font-family="Liberation Sans, sans-serif">3 min</text><g clip-path="url(#ic92)"><g filter="url(#irn)"><rect x="369.4" y="277.4" width="113.90000000000003" height="89.30000000000001" fill="rgb(214,214,214)"/><ellipse cx="432" cy="282" rx="34" ry="9" fill="url(#rg67)"/><ellipse cx="430" cy="300" rx="10" ry="24" fill="url(#rg68)"/><ellipse cx="380" cy="300" rx="12" ry="30" fill="url(#rg69)"/><ellipse cx="378" cy="284" rx="10" ry="8" fill="url(#rg70)"/><ellipse cx="374" cy="342" rx="6" ry="14" fill="url(#rg71)"/><ellipse cx="479" cy="312" rx="8" ry="40" fill="url(#rg72)"/><ellipse cx="472" cy="284" rx="16" ry="8" fill="url(#rg73)"/><ellipse cx="456" cy="319" rx="34" ry="6" fill="url(#rg74)"/><ellipse cx="402" cy="322" rx="30" ry="7" fill="url(#rg75)"/><ellipse cx="429" cy="352" rx="12" ry="20" fill="url(#rg76)"/><ellipse cx="430" cy="364" rx="56" ry="5" fill="url(#rg77)"/><ellipse cx="433" cy="330" rx="6" ry="7" fill="url(#rg78)"/><polygon points="387.8,286.4 424.8,286.4 421.0,314.3 387.3,315.5" fill="rgb(194,194,194)"/><g clip-path="url(#cp81)"><ellipse cx="404" cy="306" rx="28" ry="20" fill="url(#rg79)"/><ellipse cx="424" cy="288" rx="10" ry="8" fill="url(#rg80)"/></g><polygon points="387.8,286.4 424.8,286.4 421.0,314.3 387.3,315.5" fill="none" stroke="rgb(173,173,173)" stroke-width="1.3"/><polygon points="437.0,286.0 468.0,288.3 469.2,313.0 438.4,314.3" fill="rgb(148,148,148)"/><g clip-path="url(#cp85)"><ellipse cx="439" cy="288" rx="16" ry="12" fill="url(#rg82)"/><ellipse cx="467" cy="300" rx="22" ry="20" fill="url(#rg83)"/><ellipse cx="455" cy="314" rx="28" ry="5" fill="url(#rg84)"/></g><polygon points="382.3,329.8 418.6,332.8 419.4,358.7 380.3,360.0" fill="rgb(138,138,138)"/><g clip-path="url(#cp88)"><ellipse cx="384" cy="331" rx="12" ry="12" fill="url(#rg86)"/><ellipse cx="416" cy="350" rx="18" ry="16" fill="url(#rg87)"/></g><polygon points="439.6,324.0 469.2,325.4 473.7,356.2 442.0,358.7" fill="rgb(158,158,158)"/><g clip-path="url(#cp91)"><ellipse cx="444" cy="338" rx="14" ry="32" fill="url(#rg89)"/><ellipse cx="468" cy="340" rx="14" ry="20" fill="url(#rg90)"/></g></g></g><path d="M416.6,312.5H440.3V336H416.6ZM428.5,312.5V336M416.6,324.2H440.3" fill="none" stroke="#111" stroke-width="1.3"/><text x="422.5" y="321.8" font-size="9.6" text-anchor="middle" fill="#111" font-family="Liberation Sans, sans-serif">1</text><text x="434.4" y="321.8" font-size="9.6" text-anchor="middle" fill="#111" font-family="Liberation Sans, sans-serif">2</text><text x="422.5" y="333.5" font-size="9.6" text-anchor="middle" fill="#111" font-family="Liberation Sans, sans-serif">4</text><text x="434.4" y="333.5" font-size="9.6" text-anchor="middle" fill="#111" font-family="Liberation Sans, sans-serif">3</text><rect x="489" y="290.7" width="5.600000000000023" height="66.30000000000001" fill="url(#cbar)" filter="url(#irn0)"/><text x="491.8" y="286.3" font-size="8.1" text-anchor="middle" fill="#1a1a1a" stroke="#1a1a1a" stroke-width="0.2" font-family="Liberation Sans, sans-serif">42.1</text><text x="491.8" y="367" font-size="8.1" text-anchor="middle" fill="#1a1a1a" stroke="#1a1a1a" stroke-width="0.2" font-family="Liberation Sans, sans-serif">14.5</text><text x="425.9" y="275.7" font-size="8.8" text-anchor="middle" fill="#1a1a1a" font-family="Liberation Sans, sans-serif">10 min</text><g clip-path="url(#ic116)"><g filter="url(#irn)"><rect x="510" y="278" width="111.10000000000002" height="89.39999999999998" fill="rgb(219,219,219)"/><ellipse cx="570" cy="283" rx="40" ry="9" fill="url(#rg93)"/><ellipse cx="567" cy="302" rx="10" ry="26" fill="url(#rg94)"/><ellipse cx="516" cy="286" rx="12" ry="10" fill="url(#rg95)"/><ellipse cx="518" cy="320" rx="8" ry="30" fill="url(#rg96)"/><ellipse cx="615" cy="322" rx="8" ry="42" fill="url(#rg97)"/><ellipse cx="602" cy="283" rx="22" ry="8" fill="url(#rg98)"/><ellipse cx="596" cy="322" rx="30" ry="4" fill="url(#rg99)"/><ellipse cx="540" cy="325" rx="30" ry="7" fill="url(#rg100)"/><ellipse cx="567" cy="352" rx="12" ry="20" fill="url(#rg101)"/><ellipse cx="566" cy="364" rx="56" ry="5" fill="url(#rg102)"/><polygon points="526.3,289.6 559.6,289.6 558.4,315.5 525.0,316.7" fill="rgb(189,189,189)"/><g clip-path="url(#cp105)"><ellipse cx="540" cy="307" rx="26" ry="20" fill="url(#rg103)"/><ellipse cx="558" cy="291" rx="14" ry="8" fill="url(#rg104)"/></g><polygon points="526.3,289.6 559.6,289.6 558.4,315.5 525.0,316.7" fill="none" stroke="rgb(173,173,173)" stroke-width="1.3"/><polygon points="575.7,289.6 605.3,292.0 606.5,318.0 576.9,319.2" fill="rgb(143,143,143)"/><g clip-path="url(#cp109)"><ellipse cx="577" cy="291" rx="14" ry="10" fill="url(#rg106)"/><ellipse cx="602" cy="304" rx="20" ry="20" fill="url(#rg107)"/><ellipse cx="590" cy="319" rx="26" ry="4" fill="url(#rg108)"/></g><polygon points="520.1,332.3 554.7,334.0 555.9,360.0 518.9,361.2" fill="rgb(143,143,143)"/><g clip-path="url(#cp112)"><ellipse cx="521" cy="334" rx="12" ry="10" fill="url(#rg110)"/><ellipse cx="547" cy="352" rx="20" ry="16" fill="url(#rg111)"/></g><polygon points="579.4,326.6 607.8,327.9 610.2,358.7 580.6,360.0" fill="rgb(153,153,153)"/><g clip-path="url(#cp115)"><ellipse cx="582" cy="330" rx="12" ry="8" fill="url(#rg113)"/><ellipse cx="600" cy="346" rx="18" ry="18" fill="url(#rg114)"/></g></g></g><path d="M555.9,312.5H579.9V336.5H555.9ZM567.9,312.5V336.5M555.9,324.5H579.9" fill="none" stroke="#111" stroke-width="1.3"/><text x="561.9" y="321.9" font-size="9.6" text-anchor="middle" fill="#111" font-family="Liberation Sans, sans-serif">1</text><text x="573.9" y="321.9" font-size="9.6" text-anchor="middle" fill="#111" font-family="Liberation Sans, sans-serif">2</text><text x="561.9" y="333.9" font-size="9.6" text-anchor="middle" fill="#111" font-family="Liberation Sans, sans-serif">4</text><text x="573.9" y="333.9" font-size="9.6" text-anchor="middle" fill="#111" font-family="Liberation Sans, sans-serif">3</text><rect x="626.8" y="290.7" width="4.100000000000023" height="66.30000000000001" fill="url(#cbar)" filter="url(#irn0)"/><text x="630.3" y="286.3" font-size="8.1" text-anchor="middle" fill="#1a1a1a" stroke="#1a1a1a" stroke-width="0.2" font-family="Liberation Sans, sans-serif">39.1</text><text x="630.3" y="364.6" font-size="8.1" text-anchor="middle" fill="#1a1a1a" stroke="#1a1a1a" stroke-width="0.2" font-family="Liberation Sans, sans-serif">14.4</text><text x="566.6" y="275.7" font-size="8.8" text-anchor="middle" fill="#1a1a1a" font-family="Liberation Sans, sans-serif">15 min</text></svg></body></html>
